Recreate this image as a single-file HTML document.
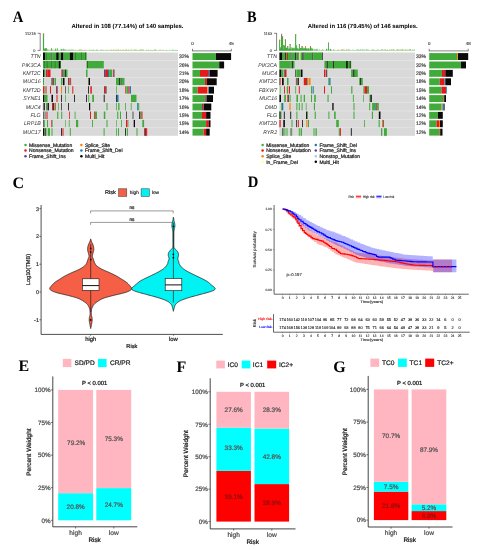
<!DOCTYPE html>
<html><head><meta charset="utf-8"><title>Figure</title>
<style>
html,body{margin:0;padding:0;background:#fff;}
body{width:478px;height:550px;overflow:hidden;}
svg{display:block;}
text{font-family:"Liberation Sans",Arial,sans-serif;text-rendering:geometricPrecision;}
text.r{font-family:"Liberation Serif","Times New Roman",serif;}
</style></head>
<body>
<svg width="478" height="550" viewBox="0 0 478 550">
<rect x="0" y="0" width="478" height="550" fill="#fff"/>
<text x="12.7" y="22" font-size="16" class="r" font-weight="bold" textLength="10.6" lengthAdjust="spacingAndGlyphs">A</text>
<text x="127.5" y="28.16" font-size="6" text-anchor="middle" font-weight="bold" textLength="112" lengthAdjust="spacingAndGlyphs">Altered in 108 (77.14%) of 140 samples.</text>
<rect x="43" y="52.5" width="135" height="83.3" fill="#D9D9D9"/>
<rect x="43" y="52.5" width="2.2" height="7.7" fill="#0a0a0a"/>
<rect x="45.2" y="52.5" width="6.3" height="7.7" fill="#40AB3A"/>
<rect x="45.8" y="52.5" width="0.6" height="7.7" fill="#2a6a26"/>
<rect x="51.5" y="52.5" width="0.8" height="7.7" fill="#333333"/>
<rect x="52.3" y="52.5" width="3.9" height="7.7" fill="#40AB3A"/>
<rect x="56.2" y="52.5" width="2.6" height="7.7" fill="#0a0a0a"/>
<rect x="58.8" y="52.5" width="2.1" height="7.7" fill="#40AB3A"/>
<rect x="60.9" y="52.5" width="2.6" height="7.7" fill="#0a0a0a"/>
<rect x="63.5" y="52.5" width="6.3" height="7.7" fill="#40AB3A"/>
<rect x="69.8" y="52.5" width="3.7" height="7.7" fill="#0a0a0a"/>
<rect x="73.5" y="52.5" width="12.8" height="7.7" fill="#40AB3A"/>
<rect x="75.3" y="52.5" width="0.6" height="7.7" fill="#2a6a26"/>
<rect x="81.3" y="52.5" width="0.6" height="7.7" fill="#2a6a26"/>
<rect x="85.2" y="52.5" width="1.1" height="7.7" fill="#2a6a26"/>
<text x="40.7" y="58.26" font-size="5.3" text-anchor="end" fill="#333" font-style="italic">TTN</text>
<text x="178.9" y="58.19" font-size="5.1" fill="#4a4a4a" stroke="#4a4a4a" stroke-width="0.22">32%</text>
<rect x="43" y="60.9" width="18" height="7.7" fill="#40AB3A"/>
<rect x="44.3" y="60.9" width="0.6" height="7.7" fill="#2a6a26"/>
<rect x="46.8" y="60.9" width="0.6" height="7.7" fill="#2a6a26"/>
<rect x="51.3" y="60.9" width="0.6" height="7.7" fill="#2a6a26"/>
<rect x="54.8" y="60.9" width="0.6" height="7.7" fill="#2a6a26"/>
<rect x="58.8" y="60.9" width="1.6" height="7.7" fill="#0a0a0a"/>
<rect x="86.5" y="60.9" width="17.3" height="7.7" fill="#40AB3A"/>
<rect x="87" y="60.9" width="1" height="7.7" fill="#2a6a26"/>
<rect x="43" y="60.2" width="135" height="0.7" fill="#E6E6E6"/>
<text x="40.7" y="66.66" font-size="5.3" text-anchor="end" fill="#333" font-style="italic">PIK3CA</text>
<text x="178.9" y="66.59" font-size="5.1" fill="#4a4a4a" stroke="#4a4a4a" stroke-width="0.22">26%</text>
<rect x="43" y="69.3" width="1.5" height="7.7" fill="#0a0a0a"/>
<rect x="44.5" y="69.3" width="1" height="7.7" fill="#40AB3A"/>
<rect x="46" y="69.3" width="1" height="7.7" fill="#E31A1C"/>
<rect x="47" y="69.3" width="0.5" height="7.7" fill="#333333"/>
<rect x="47.5" y="69.3" width="3" height="7.7" fill="#E31A1C"/>
<rect x="61.4" y="69.3" width="1.1" height="7.7" fill="#E31A1C"/>
<rect x="62.5" y="69.3" width="1" height="7.7" fill="#333333"/>
<rect x="63.5" y="69.3" width="1.5" height="7.7" fill="#40AB3A"/>
<rect x="65" y="69.3" width="1" height="7.7" fill="#333333"/>
<rect x="66" y="69.3" width="1.5" height="7.7" fill="#40AB3A"/>
<rect x="86" y="69.3" width="1.5" height="7.7" fill="#40AB3A"/>
<rect x="104" y="69.3" width="1" height="7.7" fill="#E31A1C"/>
<rect x="105" y="69.3" width="1" height="7.7" fill="#1F78B4"/>
<rect x="106" y="69.3" width="2" height="7.7" fill="#E31A1C"/>
<rect x="108" y="69.3" width="1.2" height="7.7" fill="#1F78B4"/>
<rect x="109.2" y="69.3" width="0.8" height="7.7" fill="#40AB3A"/>
<rect x="110" y="69.3" width="2" height="7.7" fill="#40AB3A"/>
<rect x="112.8" y="69.3" width="0.8" height="7.7" fill="#E31A1C"/>
<rect x="113.6" y="69.3" width="0.8" height="7.7" fill="#333333"/>
<rect x="43" y="68.6" width="135" height="0.7" fill="#E6E6E6"/>
<text x="40.7" y="75.06" font-size="5.3" text-anchor="end" fill="#333" font-style="italic">KMT2C</text>
<text x="178.9" y="74.99" font-size="5.1" fill="#4a4a4a" stroke="#4a4a4a" stroke-width="0.22">21%</text>
<rect x="43" y="77.7" width="1" height="7.7" fill="#40AB3A"/>
<rect x="51.5" y="77.7" width="1" height="7.7" fill="#333333"/>
<rect x="52.5" y="77.7" width="0.8" height="7.7" fill="#E31A1C"/>
<rect x="53.3" y="77.7" width="0.7" height="7.7" fill="#333333"/>
<rect x="54.5" y="77.7" width="1.5" height="7.7" fill="#40AB3A"/>
<rect x="61" y="77.7" width="1.5" height="7.7" fill="#40AB3A"/>
<rect x="63" y="77.7" width="1.5" height="7.7" fill="#0a0a0a"/>
<rect x="68" y="77.7" width="1" height="7.7" fill="#E31A1C"/>
<rect x="69.5" y="77.7" width="1" height="7.7" fill="#333333"/>
<rect x="70.5" y="77.7" width="0.6" height="7.7" fill="#E31A1C"/>
<rect x="88.5" y="77.7" width="1.5" height="7.7" fill="#0a0a0a"/>
<rect x="116" y="77.7" width="3" height="7.7" fill="#40AB3A"/>
<rect x="119" y="77.7" width="1" height="7.7" fill="#333333"/>
<rect x="120" y="77.7" width="1.5" height="7.7" fill="#40AB3A"/>
<rect x="121.5" y="77.7" width="1" height="7.7" fill="#333333"/>
<rect x="122.5" y="77.7" width="2" height="7.7" fill="#40AB3A"/>
<rect x="43" y="77" width="135" height="0.7" fill="#E6E6E6"/>
<text x="40.7" y="83.46" font-size="5.3" text-anchor="end" fill="#333" font-style="italic">MUC16</text>
<text x="178.9" y="83.39" font-size="5.1" fill="#4a4a4a" stroke="#4a4a4a" stroke-width="0.22">20%</text>
<rect x="43" y="86.1" width="1" height="7.7" fill="#E31A1C"/>
<rect x="44.3" y="86.1" width="0.7" height="7.7" fill="#40AB3A"/>
<rect x="45.5" y="86.1" width="1" height="7.7" fill="#E31A1C"/>
<rect x="50" y="86.1" width="1" height="7.7" fill="#E31A1C"/>
<rect x="56" y="86.1" width="1" height="7.7" fill="#E31A1C"/>
<rect x="57.2" y="86.1" width="0.8" height="7.7" fill="#1F78B4"/>
<rect x="61" y="86.1" width="1" height="7.7" fill="#FF7F00"/>
<rect x="65.3" y="86.1" width="0.7" height="7.7" fill="#333333"/>
<rect x="68.3" y="86.1" width="0.7" height="7.7" fill="#40AB3A"/>
<rect x="72.3" y="86.1" width="1" height="7.7" fill="#E31A1C"/>
<rect x="88" y="86.1" width="1" height="7.7" fill="#333333"/>
<rect x="90.3" y="86.1" width="1.5" height="7.7" fill="#E31A1C"/>
<rect x="104" y="86.1" width="1.5" height="7.7" fill="#E31A1C"/>
<rect x="105.5" y="86.1" width="1" height="7.7" fill="#333333"/>
<rect x="116" y="86.1" width="0.7" height="7.7" fill="#40AB3A"/>
<rect x="125.3" y="86.1" width="0.7" height="7.7" fill="#E31A1C"/>
<rect x="126.3" y="86.1" width="1.7" height="7.7" fill="#40AB3A"/>
<rect x="128.3" y="86.1" width="1.2" height="7.7" fill="#E31A1C"/>
<rect x="129.7" y="86.1" width="1.3" height="7.7" fill="#1F78B4"/>
<rect x="43" y="85.4" width="135" height="0.7" fill="#E6E6E6"/>
<text x="40.7" y="91.86" font-size="5.3" text-anchor="end" fill="#333" font-style="italic">KMT2D</text>
<text x="178.9" y="91.79" font-size="5.1" fill="#4a4a4a" stroke="#4a4a4a" stroke-width="0.22">18%</text>
<rect x="43" y="94.5" width="1.5" height="7.7" fill="#0a0a0a"/>
<rect x="44.5" y="94.5" width="3" height="7.7" fill="#40AB3A"/>
<rect x="51.5" y="94.5" width="1.5" height="7.7" fill="#0a0a0a"/>
<rect x="56.5" y="94.5" width="1" height="7.7" fill="#E31A1C"/>
<rect x="61" y="94.5" width="1" height="7.7" fill="#333333"/>
<rect x="65" y="94.5" width="0.7" height="7.7" fill="#40AB3A"/>
<rect x="74" y="94.5" width="1" height="7.7" fill="#333333"/>
<rect x="86" y="94.5" width="1" height="7.7" fill="#333333"/>
<rect x="88.3" y="94.5" width="0.9" height="7.7" fill="#40AB3A"/>
<rect x="92.2" y="94.5" width="1.8" height="7.7" fill="#40AB3A"/>
<rect x="103.7" y="94.5" width="1.1" height="7.7" fill="#333333"/>
<rect x="116" y="94.5" width="1" height="7.7" fill="#333333"/>
<rect x="117" y="94.5" width="1.5" height="7.7" fill="#1F78B4"/>
<rect x="131" y="94.5" width="5.5" height="7.7" fill="#40AB3A"/>
<rect x="43" y="93.8" width="135" height="0.7" fill="#E6E6E6"/>
<text x="40.7" y="100.26" font-size="5.3" text-anchor="end" fill="#333" font-style="italic">SYNE1</text>
<text x="178.9" y="100.19" font-size="5.1" fill="#4a4a4a" stroke="#4a4a4a" stroke-width="0.22">17%</text>
<rect x="42.9" y="102.9" width="0.7" height="7.7" fill="#333333"/>
<rect x="44" y="102.9" width="1" height="7.7" fill="#333333"/>
<rect x="46" y="102.9" width="1" height="7.7" fill="#40AB3A"/>
<rect x="47.5" y="102.9" width="1.4" height="7.7" fill="#0a0a0a"/>
<rect x="52" y="102.9" width="1" height="7.7" fill="#E31A1C"/>
<rect x="53" y="102.9" width="1" height="7.7" fill="#333333"/>
<rect x="54" y="102.9" width="0.7" height="7.7" fill="#40AB3A"/>
<rect x="55" y="102.9" width="0.7" height="7.7" fill="#E31A1C"/>
<rect x="58.3" y="102.9" width="0.7" height="7.7" fill="#40AB3A"/>
<rect x="61.2" y="102.9" width="0.8" height="7.7" fill="#333333"/>
<rect x="68" y="102.9" width="1" height="7.7" fill="#333333"/>
<rect x="89" y="102.9" width="1.2" height="7.7" fill="#0a0a0a"/>
<rect x="106.5" y="102.9" width="1" height="7.7" fill="#40AB3A"/>
<rect x="116.2" y="102.9" width="0.8" height="7.7" fill="#40AB3A"/>
<rect x="118.2" y="102.9" width="1.3" height="7.7" fill="#40AB3A"/>
<rect x="125" y="102.9" width="0.8" height="7.7" fill="#40AB3A"/>
<rect x="130.8" y="102.9" width="0.8" height="7.7" fill="#40AB3A"/>
<rect x="137.2" y="102.9" width="1" height="7.7" fill="#1F78B4"/>
<rect x="138.2" y="102.9" width="1" height="7.7" fill="#40AB3A"/>
<rect x="43" y="102.2" width="135" height="0.7" fill="#E6E6E6"/>
<text x="40.7" y="108.66" font-size="5.3" text-anchor="end" fill="#333" font-style="italic">MUC4</text>
<text x="178.9" y="108.59" font-size="5.1" fill="#4a4a4a" stroke="#4a4a4a" stroke-width="0.22">16%</text>
<rect x="43" y="111.3" width="0.7" height="7.7" fill="#333333"/>
<rect x="44.7" y="111.3" width="0.7" height="7.7" fill="#333333"/>
<rect x="46.5" y="111.3" width="1" height="7.7" fill="#E31A1C"/>
<rect x="57.2" y="111.3" width="1.1" height="7.7" fill="#40AB3A"/>
<rect x="61.2" y="111.3" width="1" height="7.7" fill="#40AB3A"/>
<rect x="69" y="111.3" width="0.8" height="7.7" fill="#E31A1C"/>
<rect x="74.7" y="111.3" width="0.8" height="7.7" fill="#40AB3A"/>
<rect x="90" y="111.3" width="1" height="7.7" fill="#E31A1C"/>
<rect x="94.2" y="111.3" width="0.8" height="7.7" fill="#E31A1C"/>
<rect x="95" y="111.3" width="2" height="7.7" fill="#40AB3A"/>
<rect x="103.8" y="111.3" width="1.5" height="7.7" fill="#40AB3A"/>
<rect x="117.2" y="111.3" width="1.1" height="7.7" fill="#40AB3A"/>
<rect x="120" y="111.3" width="1" height="7.7" fill="#40AB3A"/>
<rect x="126" y="111.3" width="0.8" height="7.7" fill="#333333"/>
<rect x="132.6" y="111.3" width="0.8" height="7.7" fill="#333333"/>
<rect x="139.2" y="111.3" width="1.2" height="7.7" fill="#0a0a0a"/>
<rect x="140.4" y="111.3" width="1.1" height="7.7" fill="#40AB3A"/>
<rect x="141.5" y="111.3" width="1" height="7.7" fill="#E31A1C"/>
<rect x="43" y="110.6" width="135" height="0.7" fill="#E6E6E6"/>
<text x="40.7" y="117.06" font-size="5.3" text-anchor="end" fill="#333" font-style="italic">FLG</text>
<text x="178.9" y="116.99" font-size="5.1" fill="#4a4a4a" stroke="#4a4a4a" stroke-width="0.22">15%</text>
<rect x="43" y="119.7" width="0.7" height="7.7" fill="#333333"/>
<rect x="44.2" y="119.7" width="0.8" height="7.7" fill="#40AB3A"/>
<rect x="47" y="119.7" width="1" height="7.7" fill="#40AB3A"/>
<rect x="51.3" y="119.7" width="0.7" height="7.7" fill="#E31A1C"/>
<rect x="52" y="119.7" width="0.6" height="7.7" fill="#40AB3A"/>
<rect x="65" y="119.7" width="0.6" height="7.7" fill="#40AB3A"/>
<rect x="68.8" y="119.7" width="0.8" height="7.7" fill="#40AB3A"/>
<rect x="76" y="119.7" width="2.2" height="7.7" fill="#40AB3A"/>
<rect x="92.1" y="119.7" width="0.9" height="7.7" fill="#40AB3A"/>
<rect x="106.5" y="119.7" width="1" height="7.7" fill="#40AB3A"/>
<rect x="116.2" y="119.7" width="0.6" height="7.7" fill="#40AB3A"/>
<rect x="121" y="119.7" width="0.8" height="7.7" fill="#40AB3A"/>
<rect x="126" y="119.7" width="1.5" height="7.7" fill="#E31A1C"/>
<rect x="127.8" y="119.7" width="0.6" height="7.7" fill="#40AB3A"/>
<rect x="133.7" y="119.7" width="1.3" height="7.7" fill="#0a0a0a"/>
<rect x="142.3" y="119.7" width="1.8" height="7.7" fill="#40AB3A"/>
<rect x="43" y="119" width="135" height="0.7" fill="#E6E6E6"/>
<text x="40.7" y="125.46" font-size="5.3" text-anchor="end" fill="#333" font-style="italic">LRP1B</text>
<text x="178.9" y="125.39" font-size="5.1" fill="#4a4a4a" stroke="#4a4a4a" stroke-width="0.22">15%</text>
<rect x="43" y="128.1" width="1.5" height="7.7" fill="#0a0a0a"/>
<rect x="44.5" y="128.1" width="2" height="7.7" fill="#40AB3A"/>
<rect x="45.3" y="128.1" width="0.6" height="7.7" fill="#333333"/>
<rect x="47.8" y="128.1" width="2.2" height="7.7" fill="#40AB3A"/>
<rect x="51.5" y="128.1" width="1" height="7.7" fill="#40AB3A"/>
<rect x="61" y="128.1" width="1" height="7.7" fill="#333333"/>
<rect x="62.5" y="128.1" width="1" height="7.7" fill="#E31A1C"/>
<rect x="69.8" y="128.1" width="1" height="7.7" fill="#40AB3A"/>
<rect x="103.6" y="128.1" width="1" height="7.7" fill="#40AB3A"/>
<rect x="116.2" y="128.1" width="0.8" height="7.7" fill="#40AB3A"/>
<rect x="118" y="128.1" width="1" height="7.7" fill="#40AB3A"/>
<rect x="125" y="128.1" width="1" height="7.7" fill="#333333"/>
<rect x="126.8" y="128.1" width="1.1" height="7.7" fill="#40AB3A"/>
<rect x="136.5" y="128.1" width="1" height="7.7" fill="#40AB3A"/>
<rect x="144.1" y="128.1" width="1" height="7.7" fill="#E31A1C"/>
<rect x="145.1" y="128.1" width="1" height="7.7" fill="#333333"/>
<rect x="146.1" y="128.1" width="1.1" height="7.7" fill="#E31A1C"/>
<rect x="43" y="127.4" width="135" height="0.7" fill="#E6E6E6"/>
<text x="40.7" y="133.86" font-size="5.3" text-anchor="end" fill="#333" font-style="italic">MUC17</text>
<text x="178.9" y="133.79" font-size="5.1" fill="#4a4a4a" stroke="#4a4a4a" stroke-width="0.22">14%</text>
<rect x="192.5" y="53.1" width="23.4" height="6.9" fill="#40AB3A"/>
<rect x="215.9" y="53.1" width="15.2" height="6.9" fill="#0a0a0a"/>
<rect x="192.5" y="61.5" width="26.7" height="6.9" fill="#40AB3A"/>
<rect x="219.2" y="61.5" width="4.9" height="6.9" fill="#0a0a0a"/>
<rect x="192.5" y="69.9" width="7.5" height="6.9" fill="#40AB3A"/>
<rect x="200" y="69.9" width="8.9" height="6.9" fill="#E31A1C"/>
<rect x="208.9" y="69.9" width="1.1" height="6.9" fill="#1F78B4"/>
<rect x="210" y="69.9" width="7.6" height="6.9" fill="#0a0a0a"/>
<rect x="192.5" y="78.3" width="12.5" height="6.9" fill="#40AB3A"/>
<rect x="205" y="78.3" width="1.9" height="6.9" fill="#E31A1C"/>
<rect x="206.9" y="78.3" width="9.8" height="6.9" fill="#0a0a0a"/>
<rect x="192.5" y="86.7" width="5.1" height="6.9" fill="#40AB3A"/>
<rect x="197.6" y="86.7" width="9.8" height="6.9" fill="#E31A1C"/>
<rect x="207.4" y="86.7" width="0.8" height="6.9" fill="#FF7F00"/>
<rect x="208.2" y="86.7" width="0.8" height="6.9" fill="#1F78B4"/>
<rect x="209" y="86.7" width="5" height="6.9" fill="#0a0a0a"/>
<rect x="192.5" y="95.1" width="12.5" height="6.9" fill="#40AB3A"/>
<rect x="205" y="95.1" width="0.8" height="6.9" fill="#E31A1C"/>
<rect x="205.8" y="95.1" width="0.7" height="6.9" fill="#1F78B4"/>
<rect x="206.5" y="95.1" width="6.5" height="6.9" fill="#0a0a0a"/>
<rect x="192.5" y="103.5" width="9.5" height="6.9" fill="#40AB3A"/>
<rect x="202" y="103.5" width="1" height="6.9" fill="#E31A1C"/>
<rect x="203" y="103.5" width="0.7" height="6.9" fill="#1F78B4"/>
<rect x="203.7" y="103.5" width="7.6" height="6.9" fill="#0a0a0a"/>
<rect x="192.5" y="111.9" width="9.5" height="6.9" fill="#40AB3A"/>
<rect x="202" y="111.9" width="4.1" height="6.9" fill="#E31A1C"/>
<rect x="206.1" y="111.9" width="4.4" height="6.9" fill="#0a0a0a"/>
<rect x="192.5" y="120.3" width="13.6" height="6.9" fill="#40AB3A"/>
<rect x="206.1" y="120.3" width="2.8" height="6.9" fill="#E31A1C"/>
<rect x="208.9" y="120.3" width="1.6" height="6.9" fill="#0a0a0a"/>
<rect x="192.5" y="128.7" width="11.1" height="6.9" fill="#40AB3A"/>
<rect x="203.6" y="128.7" width="2.5" height="6.9" fill="#E31A1C"/>
<rect x="206.1" y="128.7" width="3.6" height="6.9" fill="#0a0a0a"/>
<line x1="192.5" y1="50.9" x2="231.3" y2="50.9" stroke="#333" stroke-width="0.6"/>
<line x1="192.5" y1="48.8" x2="192.5" y2="51.2" stroke="#333" stroke-width="0.6"/>
<line x1="231.3" y1="48.8" x2="231.3" y2="51.2" stroke="#333" stroke-width="0.6"/>
<text x="192.5" y="45.38" font-size="4.4" text-anchor="middle" fill="#333" stroke="#333" stroke-width="0.12">0</text>
<text x="231.3" y="45.38" font-size="4.4" text-anchor="middle" fill="#333" stroke="#333" stroke-width="0.12">45</text>
<line x1="40.2" y1="33" x2="40.2" y2="50.7" stroke="#333" stroke-width="0.6"/>
<line x1="37.6" y1="33.3" x2="40.2" y2="33.3" stroke="#333" stroke-width="0.6"/>
<line x1="37.6" y1="50.4" x2="40.2" y2="50.4" stroke="#333" stroke-width="0.6"/>
<text x="35.6" y="35" font-size="3.9" text-anchor="end" fill="#444" stroke="#444" stroke-width="0.12">11218</text>
<text x="35.4" y="51.5" font-size="3.9" text-anchor="end" fill="#444" stroke="#444" stroke-width="0.12">0</text>
<rect x="43" y="48.81" width="0.9" height="1.69" fill="#40AB3A"/>
<rect x="43.95" y="48.94" width="0.9" height="1.56" fill="#40AB3A"/>
<rect x="44.9" y="49.29" width="0.9" height="1.21" fill="#40AB3A"/>
<rect x="45.85" y="48.2" width="0.9" height="2.3" fill="#40AB3A"/>
<rect x="46.8" y="49.49" width="0.9" height="1.01" fill="#40AB3A"/>
<rect x="43" y="50.12" width="0.82" height="0.38" fill="#40AB3A"/>
<rect x="43.96" y="50.04" width="0.82" height="0.46" fill="#40AB3A"/>
<rect x="44.93" y="49.87" width="0.82" height="0.63" fill="#40AB3A"/>
<rect x="44.93" y="49.87" width="0.82" height="0.32" fill="#FF7F00"/>
<rect x="45.89" y="50.27" width="0.82" height="0.23" fill="#40AB3A"/>
<rect x="46.86" y="50.11" width="0.82" height="0.39" fill="#40AB3A"/>
<rect x="46.86" y="50.11" width="0.82" height="0.2" fill="#FF7F00"/>
<rect x="47.82" y="49.62" width="0.82" height="0.88" fill="#40AB3A"/>
<rect x="48.79" y="49.73" width="0.82" height="0.77" fill="#40AB3A"/>
<rect x="49.75" y="49.86" width="0.82" height="0.64" fill="#40AB3A"/>
<rect x="49.75" y="49.86" width="0.82" height="0.32" fill="#FF7F00"/>
<rect x="50.71" y="49.86" width="0.82" height="0.64" fill="#40AB3A"/>
<rect x="51.68" y="49.93" width="0.82" height="0.57" fill="#40AB3A"/>
<rect x="52.64" y="49.84" width="0.82" height="0.66" fill="#40AB3A"/>
<rect x="52.64" y="49.84" width="0.82" height="0.33" fill="#FF7F00"/>
<rect x="53.61" y="49.78" width="0.82" height="0.72" fill="#40AB3A"/>
<rect x="54.57" y="50.08" width="0.82" height="0.42" fill="#40AB3A"/>
<rect x="54.57" y="50.08" width="0.82" height="0.21" fill="#FF7F00"/>
<rect x="55.54" y="49.71" width="0.82" height="0.79" fill="#40AB3A"/>
<rect x="56.5" y="49.81" width="0.82" height="0.69" fill="#40AB3A"/>
<rect x="57.46" y="49.81" width="0.82" height="0.69" fill="#40AB3A"/>
<rect x="58.43" y="50.02" width="0.82" height="0.48" fill="#40AB3A"/>
<rect x="59.39" y="49.99" width="0.82" height="0.51" fill="#40AB3A"/>
<rect x="60.36" y="49.7" width="0.82" height="0.8" fill="#40AB3A"/>
<rect x="60.36" y="49.7" width="0.82" height="0.4" fill="#FF7F00"/>
<rect x="61.32" y="50.19" width="0.82" height="0.31" fill="#40AB3A"/>
<rect x="61.32" y="50.19" width="0.82" height="0.15" fill="#FF7F00"/>
<rect x="62.29" y="49.64" width="0.82" height="0.86" fill="#40AB3A"/>
<rect x="63.25" y="49.87" width="0.82" height="0.63" fill="#40AB3A"/>
<rect x="63.25" y="49.87" width="0.82" height="0.32" fill="#FF7F00"/>
<rect x="64.21" y="49.95" width="0.82" height="0.55" fill="#40AB3A"/>
<rect x="65.18" y="50.05" width="0.82" height="0.45" fill="#40AB3A"/>
<rect x="66.14" y="49.89" width="0.82" height="0.61" fill="#40AB3A"/>
<rect x="67.11" y="49.83" width="0.82" height="0.67" fill="#40AB3A"/>
<rect x="68.07" y="49.71" width="0.82" height="0.79" fill="#40AB3A"/>
<rect x="69.04" y="49.84" width="0.82" height="0.66" fill="#40AB3A"/>
<rect x="69.04" y="49.84" width="0.82" height="0.33" fill="#FF7F00"/>
<rect x="70" y="49.71" width="0.82" height="0.79" fill="#40AB3A"/>
<rect x="70.96" y="49.68" width="0.82" height="0.82" fill="#40AB3A"/>
<rect x="71.93" y="49.81" width="0.82" height="0.69" fill="#40AB3A"/>
<rect x="71.93" y="49.81" width="0.82" height="0.35" fill="#FF7F00"/>
<rect x="72.89" y="49.73" width="0.82" height="0.77" fill="#40AB3A"/>
<rect x="73.86" y="50.09" width="0.82" height="0.41" fill="#40AB3A"/>
<rect x="73.86" y="50.09" width="0.82" height="0.2" fill="#FF7F00"/>
<rect x="74.82" y="49.72" width="0.82" height="0.78" fill="#40AB3A"/>
<rect x="75.79" y="50.22" width="0.82" height="0.28" fill="#40AB3A"/>
<rect x="76.75" y="50.01" width="0.82" height="0.49" fill="#40AB3A"/>
<rect x="76.75" y="50.01" width="0.82" height="0.25" fill="#FF7F00"/>
<rect x="77.71" y="50.09" width="0.82" height="0.41" fill="#40AB3A"/>
<rect x="78.68" y="49.7" width="0.82" height="0.8" fill="#40AB3A"/>
<rect x="78.68" y="49.7" width="0.82" height="0.4" fill="#FF7F00"/>
<rect x="79.64" y="49.87" width="0.82" height="0.63" fill="#40AB3A"/>
<rect x="79.64" y="49.87" width="0.82" height="0.31" fill="#FF7F00"/>
<rect x="80.61" y="49.81" width="0.82" height="0.69" fill="#40AB3A"/>
<rect x="80.61" y="49.81" width="0.82" height="0.35" fill="#FF7F00"/>
<rect x="81.57" y="49.7" width="0.82" height="0.8" fill="#40AB3A"/>
<rect x="82.54" y="49.95" width="0.82" height="0.55" fill="#40AB3A"/>
<rect x="83.5" y="50.08" width="0.82" height="0.42" fill="#40AB3A"/>
<rect x="83.5" y="50.08" width="0.82" height="0.21" fill="#FF7F00"/>
<rect x="84.46" y="49.88" width="0.82" height="0.62" fill="#40AB3A"/>
<rect x="84.46" y="49.88" width="0.82" height="0.31" fill="#FF7F00"/>
<rect x="85.43" y="50.15" width="0.82" height="0.35" fill="#40AB3A"/>
<rect x="86.39" y="49.88" width="0.82" height="0.62" fill="#40AB3A"/>
<rect x="86.39" y="49.88" width="0.82" height="0.31" fill="#FF7F00"/>
<rect x="87.36" y="50.25" width="0.82" height="0.25" fill="#40AB3A"/>
<rect x="88.32" y="50.07" width="0.82" height="0.43" fill="#40AB3A"/>
<rect x="89.29" y="49.69" width="0.82" height="0.81" fill="#40AB3A"/>
<rect x="90.25" y="49.98" width="0.82" height="0.52" fill="#40AB3A"/>
<rect x="91.21" y="49.86" width="0.82" height="0.64" fill="#40AB3A"/>
<rect x="92.18" y="49.91" width="0.82" height="0.59" fill="#40AB3A"/>
<rect x="93.14" y="49.66" width="0.82" height="0.84" fill="#40AB3A"/>
<rect x="94.11" y="50" width="0.82" height="0.5" fill="#40AB3A"/>
<rect x="95.07" y="50.12" width="0.82" height="0.38" fill="#40AB3A"/>
<rect x="95.07" y="50.12" width="0.82" height="0.19" fill="#FF7F00"/>
<rect x="96.04" y="49.63" width="0.82" height="0.87" fill="#40AB3A"/>
<rect x="97" y="49.92" width="0.82" height="0.58" fill="#40AB3A"/>
<rect x="97" y="49.92" width="0.82" height="0.29" fill="#FF7F00"/>
<rect x="97.96" y="50.01" width="0.82" height="0.49" fill="#40AB3A"/>
<rect x="98.93" y="50.27" width="0.82" height="0.23" fill="#40AB3A"/>
<rect x="99.89" y="49.86" width="0.82" height="0.64" fill="#40AB3A"/>
<rect x="99.89" y="49.86" width="0.82" height="0.32" fill="#FF7F00"/>
<rect x="100.86" y="49.87" width="0.82" height="0.63" fill="#40AB3A"/>
<rect x="101.82" y="49.83" width="0.82" height="0.67" fill="#40AB3A"/>
<rect x="102.79" y="49.81" width="0.82" height="0.69" fill="#40AB3A"/>
<rect x="103.75" y="50.27" width="0.82" height="0.23" fill="#40AB3A"/>
<rect x="103.75" y="50.27" width="0.82" height="0.12" fill="#FF7F00"/>
<rect x="104.71" y="49.83" width="0.82" height="0.67" fill="#40AB3A"/>
<rect x="105.68" y="50.11" width="0.82" height="0.39" fill="#40AB3A"/>
<rect x="106.64" y="49.89" width="0.82" height="0.61" fill="#40AB3A"/>
<rect x="106.64" y="49.89" width="0.82" height="0.31" fill="#FF7F00"/>
<rect x="107.61" y="50.04" width="0.82" height="0.46" fill="#40AB3A"/>
<rect x="107.61" y="50.04" width="0.82" height="0.23" fill="#FF7F00"/>
<rect x="108.57" y="50.04" width="0.82" height="0.46" fill="#40AB3A"/>
<rect x="109.54" y="50.08" width="0.82" height="0.42" fill="#40AB3A"/>
<rect x="110.5" y="49.77" width="0.82" height="0.73" fill="#40AB3A"/>
<rect x="110.5" y="49.77" width="0.82" height="0.36" fill="#FF7F00"/>
<rect x="111.46" y="49.9" width="0.82" height="0.6" fill="#40AB3A"/>
<rect x="112.43" y="50.08" width="0.82" height="0.42" fill="#40AB3A"/>
<rect x="112.43" y="50.08" width="0.82" height="0.21" fill="#FF7F00"/>
<rect x="113.39" y="49.75" width="0.82" height="0.75" fill="#40AB3A"/>
<rect x="113.39" y="49.75" width="0.82" height="0.38" fill="#FF7F00"/>
<rect x="114.36" y="50.16" width="0.82" height="0.34" fill="#40AB3A"/>
<rect x="115.32" y="49.82" width="0.82" height="0.68" fill="#40AB3A"/>
<rect x="115.32" y="49.82" width="0.82" height="0.34" fill="#FF7F00"/>
<rect x="116.29" y="50.07" width="0.82" height="0.43" fill="#40AB3A"/>
<rect x="116.29" y="50.07" width="0.82" height="0.22" fill="#FF7F00"/>
<rect x="117.25" y="49.73" width="0.82" height="0.77" fill="#40AB3A"/>
<rect x="118.21" y="49.72" width="0.82" height="0.78" fill="#40AB3A"/>
<rect x="118.21" y="49.72" width="0.82" height="0.39" fill="#FF7F00"/>
<rect x="119.18" y="50.06" width="0.82" height="0.44" fill="#40AB3A"/>
<rect x="120.14" y="49.7" width="0.82" height="0.8" fill="#40AB3A"/>
<rect x="121.11" y="50.13" width="0.82" height="0.37" fill="#40AB3A"/>
<rect x="121.11" y="50.13" width="0.82" height="0.18" fill="#FF7F00"/>
<rect x="122.07" y="49.93" width="0.82" height="0.57" fill="#40AB3A"/>
<rect x="122.07" y="49.93" width="0.82" height="0.28" fill="#FF7F00"/>
<rect x="123.04" y="49.75" width="0.82" height="0.75" fill="#40AB3A"/>
<rect x="124" y="50.16" width="0.82" height="0.34" fill="#40AB3A"/>
<rect x="124" y="50.16" width="0.82" height="0.17" fill="#FF7F00"/>
<rect x="124.96" y="49.75" width="0.82" height="0.75" fill="#40AB3A"/>
<rect x="125.93" y="49.75" width="0.82" height="0.75" fill="#40AB3A"/>
<rect x="125.93" y="49.75" width="0.82" height="0.38" fill="#FF7F00"/>
<rect x="126.89" y="50.19" width="0.82" height="0.31" fill="#40AB3A"/>
<rect x="126.89" y="50.19" width="0.82" height="0.15" fill="#FF7F00"/>
<rect x="127.86" y="49.76" width="0.82" height="0.74" fill="#40AB3A"/>
<rect x="127.86" y="49.76" width="0.82" height="0.37" fill="#FF7F00"/>
<rect x="128.82" y="50.05" width="0.82" height="0.45" fill="#40AB3A"/>
<rect x="129.79" y="50" width="0.82" height="0.5" fill="#40AB3A"/>
<rect x="130.75" y="49.67" width="0.82" height="0.83" fill="#40AB3A"/>
<rect x="130.75" y="49.67" width="0.82" height="0.41" fill="#FF7F00"/>
<rect x="131.71" y="50.28" width="0.82" height="0.22" fill="#40AB3A"/>
<rect x="132.68" y="49.7" width="0.82" height="0.8" fill="#40AB3A"/>
<rect x="133.64" y="49.99" width="0.82" height="0.51" fill="#40AB3A"/>
<rect x="134.61" y="49.67" width="0.82" height="0.83" fill="#40AB3A"/>
<rect x="134.61" y="49.67" width="0.82" height="0.42" fill="#FF7F00"/>
<rect x="135.57" y="49.79" width="0.82" height="0.71" fill="#40AB3A"/>
<rect x="136.54" y="49.84" width="0.82" height="0.66" fill="#40AB3A"/>
<rect x="137.5" y="50.09" width="0.82" height="0.41" fill="#40AB3A"/>
<rect x="137.5" y="50.09" width="0.82" height="0.21" fill="#FF7F00"/>
<rect x="138.46" y="50.13" width="0.82" height="0.37" fill="#40AB3A"/>
<rect x="138.46" y="50.13" width="0.82" height="0.19" fill="#FF7F00"/>
<rect x="139.43" y="49.89" width="0.82" height="0.61" fill="#40AB3A"/>
<rect x="139.43" y="49.89" width="0.82" height="0.3" fill="#FF7F00"/>
<rect x="140.39" y="49.75" width="0.82" height="0.75" fill="#40AB3A"/>
<rect x="140.39" y="49.75" width="0.82" height="0.38" fill="#FF7F00"/>
<rect x="141.36" y="49.68" width="0.82" height="0.82" fill="#40AB3A"/>
<rect x="142.32" y="49.67" width="0.82" height="0.83" fill="#40AB3A"/>
<rect x="143.29" y="49.69" width="0.82" height="0.81" fill="#40AB3A"/>
<rect x="144.25" y="50.27" width="0.82" height="0.23" fill="#40AB3A"/>
<rect x="145.21" y="50.17" width="0.82" height="0.33" fill="#40AB3A"/>
<rect x="145.21" y="50.17" width="0.82" height="0.17" fill="#FF7F00"/>
<rect x="146.18" y="49.84" width="0.82" height="0.66" fill="#40AB3A"/>
<rect x="147.14" y="50.01" width="0.82" height="0.49" fill="#40AB3A"/>
<rect x="148.11" y="49.88" width="0.82" height="0.62" fill="#40AB3A"/>
<rect x="148.11" y="49.88" width="0.82" height="0.31" fill="#FF7F00"/>
<rect x="149.07" y="50.11" width="0.82" height="0.39" fill="#40AB3A"/>
<rect x="150.04" y="49.97" width="0.82" height="0.53" fill="#40AB3A"/>
<rect x="151" y="50.05" width="0.82" height="0.45" fill="#40AB3A"/>
<rect x="151" y="50.05" width="0.82" height="0.23" fill="#FF7F00"/>
<rect x="151.96" y="49.93" width="0.82" height="0.57" fill="#40AB3A"/>
<rect x="152.93" y="50.17" width="0.82" height="0.33" fill="#40AB3A"/>
<rect x="153.89" y="49.67" width="0.82" height="0.83" fill="#40AB3A"/>
<rect x="154.86" y="49.74" width="0.82" height="0.76" fill="#40AB3A"/>
<rect x="154.86" y="49.74" width="0.82" height="0.38" fill="#FF7F00"/>
<rect x="155.82" y="49.87" width="0.82" height="0.63" fill="#40AB3A"/>
<rect x="156.79" y="50.25" width="0.82" height="0.25" fill="#40AB3A"/>
<rect x="156.79" y="50.25" width="0.82" height="0.13" fill="#FF7F00"/>
<rect x="157.75" y="50.1" width="0.82" height="0.4" fill="#40AB3A"/>
<rect x="158.71" y="50" width="0.82" height="0.5" fill="#40AB3A"/>
<rect x="159.68" y="49.77" width="0.82" height="0.73" fill="#40AB3A"/>
<rect x="159.68" y="49.77" width="0.82" height="0.37" fill="#FF7F00"/>
<rect x="160.64" y="50.24" width="0.82" height="0.26" fill="#40AB3A"/>
<rect x="160.64" y="50.24" width="0.82" height="0.13" fill="#FF7F00"/>
<rect x="161.61" y="50.2" width="0.82" height="0.3" fill="#40AB3A"/>
<rect x="161.61" y="50.2" width="0.82" height="0.15" fill="#FF7F00"/>
<rect x="162.57" y="49.64" width="0.82" height="0.86" fill="#40AB3A"/>
<rect x="163.54" y="50.22" width="0.82" height="0.28" fill="#40AB3A"/>
<rect x="164.5" y="50.07" width="0.82" height="0.43" fill="#40AB3A"/>
<rect x="164.5" y="50.07" width="0.82" height="0.21" fill="#FF7F00"/>
<rect x="165.46" y="50.05" width="0.82" height="0.45" fill="#40AB3A"/>
<rect x="166.43" y="49.89" width="0.82" height="0.61" fill="#40AB3A"/>
<rect x="167.39" y="50.15" width="0.82" height="0.35" fill="#40AB3A"/>
<rect x="167.39" y="50.15" width="0.82" height="0.17" fill="#FF7F00"/>
<rect x="168.36" y="50.2" width="0.82" height="0.3" fill="#40AB3A"/>
<rect x="169.32" y="49.81" width="0.82" height="0.69" fill="#40AB3A"/>
<rect x="170.29" y="50.23" width="0.82" height="0.27" fill="#40AB3A"/>
<rect x="170.29" y="50.23" width="0.82" height="0.14" fill="#FF7F00"/>
<rect x="171.25" y="50.03" width="0.82" height="0.47" fill="#40AB3A"/>
<rect x="172.21" y="49.76" width="0.82" height="0.74" fill="#40AB3A"/>
<rect x="173.18" y="49.75" width="0.82" height="0.75" fill="#40AB3A"/>
<rect x="174.14" y="50" width="0.82" height="0.5" fill="#40AB3A"/>
<rect x="175.11" y="49.95" width="0.82" height="0.55" fill="#40AB3A"/>
<rect x="176.07" y="50" width="0.82" height="0.5" fill="#40AB3A"/>
<rect x="177.04" y="49.98" width="0.82" height="0.52" fill="#40AB3A"/>
<rect x="177.04" y="49.98" width="0.82" height="0.26" fill="#FF7F00"/>
<rect x="42.9" y="33.6" width="1.2" height="16.9" fill="#40AB3A"/>
<rect x="42.9" y="33.6" width="1.2" height="1.2" fill="#F05A5A"/>
<rect x="43.6" y="48" width="0.8" height="2.5" fill="#40AB3A"/>
<rect x="45" y="48.2" width="0.9" height="2.3" fill="#40AB3A"/>
<rect x="46.2" y="48.6" width="0.8" height="1.9" fill="#40AB3A"/>
<rect x="51.2" y="48.1" width="0.9" height="2.4" fill="#40AB3A"/>
<rect x="55" y="48.6" width="0.8" height="1.9" fill="#40AB3A"/>
<rect x="56.8" y="48.3" width="0.9" height="2.2" fill="#40AB3A"/>
<rect x="61.2" y="49" width="0.8" height="1.5" fill="#40AB3A"/>
<rect x="62.8" y="48.7" width="0.8" height="1.8" fill="#40AB3A"/>
<rect x="64.6" y="49" width="0.8" height="1.5" fill="#40AB3A"/>
<circle cx="25.5" cy="145" r="1.25" fill="#40AB3A"/>
<text x="29.1" y="146.8" font-size="5" fill="#222" stroke="#222" stroke-width="0.22">Missense_Mutation</text>
<circle cx="25.5" cy="150.6" r="1.25" fill="#E31A1C"/>
<text x="29.1" y="152.4" font-size="5" fill="#222" stroke="#222" stroke-width="0.22">Nonsense_Mutation</text>
<circle cx="25.5" cy="156.2" r="1.25" fill="#6A3D9A"/>
<text x="29.1" y="158" font-size="5" fill="#222" stroke="#222" stroke-width="0.22">Frame_Shift_Ins</text>
<circle cx="81.4" cy="145" r="1.25" fill="#FF7F00"/>
<text x="85" y="146.8" font-size="5" fill="#222" stroke="#222" stroke-width="0.22">Splice_Site</text>
<circle cx="81.4" cy="150.6" r="1.25" fill="#1F78B4"/>
<text x="85" y="152.4" font-size="5" fill="#222" stroke="#222" stroke-width="0.22">Frame_Shift_Del</text>
<circle cx="81.4" cy="156.2" r="1.25" fill="#000"/>
<text x="85" y="158" font-size="5" fill="#222" stroke="#222" stroke-width="0.22">Multi_Hit</text>
<text x="247" y="21.9" font-size="16" class="r" font-weight="bold" textLength="9.6" lengthAdjust="spacingAndGlyphs">B</text>
<text x="362.7" y="28.16" font-size="6" text-anchor="middle" font-weight="bold" textLength="110" lengthAdjust="spacingAndGlyphs">Altered in 116 (79.45%) of 146 samples.</text>
<rect x="279.4" y="52.5" width="135.6" height="83.3" fill="#D9D9D9"/>
<rect x="279.4" y="52.5" width="3.1" height="7.7" fill="#0a0a0a"/>
<rect x="282.5" y="52.5" width="2.5" height="7.7" fill="#40AB3A"/>
<rect x="285" y="52.5" width="1" height="7.7" fill="#333333"/>
<rect x="286" y="52.5" width="1" height="7.7" fill="#40AB3A"/>
<rect x="287" y="52.5" width="1" height="7.7" fill="#E31A1C"/>
<rect x="288" y="52.5" width="2.7" height="7.7" fill="#40AB3A"/>
<rect x="290.7" y="52.5" width="0.8" height="7.7" fill="#333333"/>
<rect x="291.5" y="52.5" width="3.5" height="7.7" fill="#40AB3A"/>
<rect x="295" y="52.5" width="1" height="7.7" fill="#333333"/>
<rect x="296" y="52.5" width="1.5" height="7.7" fill="#40AB3A"/>
<rect x="297.5" y="52.5" width="1" height="7.7" fill="#333333"/>
<rect x="298.5" y="52.5" width="1" height="7.7" fill="#40AB3A"/>
<rect x="299.5" y="52.5" width="1" height="7.7" fill="#FFFF99"/>
<rect x="300.5" y="52.5" width="1.8" height="7.7" fill="#40AB3A"/>
<rect x="302.3" y="52.5" width="0.9" height="7.7" fill="#333333"/>
<rect x="303.2" y="52.5" width="0.6" height="7.7" fill="#2a6a26"/>
<rect x="303.8" y="52.5" width="0.7" height="7.7" fill="#333333"/>
<rect x="304.5" y="52.5" width="7.8" height="7.7" fill="#40AB3A"/>
<rect x="312.3" y="52.5" width="0.9" height="7.7" fill="#333333"/>
<rect x="313.2" y="52.5" width="9" height="7.7" fill="#40AB3A"/>
<rect x="322.2" y="52.5" width="0.8" height="7.7" fill="#333333"/>
<text x="277.1" y="58.26" font-size="5.3" text-anchor="end" fill="#333" font-style="italic">TTN</text>
<text x="415.9" y="58.19" font-size="5.1" fill="#4a4a4a" stroke="#4a4a4a" stroke-width="0.22">33%</text>
<rect x="279.4" y="60.9" width="10.1" height="7.7" fill="#40AB3A"/>
<rect x="289.5" y="60.9" width="1" height="7.7" fill="#2a6a26"/>
<rect x="290.5" y="60.9" width="1.5" height="7.7" fill="#40AB3A"/>
<rect x="292" y="60.9" width="1" height="7.7" fill="#333333"/>
<rect x="293" y="60.9" width="1.5" height="7.7" fill="#40AB3A"/>
<rect x="324.4" y="60.9" width="26.8" height="7.7" fill="#40AB3A"/>
<rect x="326.8" y="60.9" width="1" height="7.7" fill="#333333"/>
<rect x="333" y="60.9" width="1" height="7.7" fill="#333333"/>
<rect x="346.2" y="60.9" width="1.5" height="7.7" fill="#0a0a0a"/>
<rect x="349.7" y="60.9" width="1" height="7.7" fill="#333333"/>
<rect x="279.4" y="60.2" width="135.6" height="0.7" fill="#E6E6E6"/>
<text x="277.1" y="66.66" font-size="5.3" text-anchor="end" fill="#333" font-style="italic">PIK3CA</text>
<text x="415.9" y="66.59" font-size="5.1" fill="#4a4a4a" stroke="#4a4a4a" stroke-width="0.22">32%</text>
<rect x="279.4" y="69.3" width="1.6" height="7.7" fill="#0a0a0a"/>
<rect x="281" y="69.3" width="2.5" height="7.7" fill="#40AB3A"/>
<rect x="284.2" y="69.3" width="0.8" height="7.7" fill="#E31A1C"/>
<rect x="285" y="69.3" width="0.8" height="7.7" fill="#333333"/>
<rect x="285.8" y="69.3" width="0.7" height="7.7" fill="#E31A1C"/>
<rect x="295.2" y="69.3" width="0.7" height="7.7" fill="#333333"/>
<rect x="296.3" y="69.3" width="4.2" height="7.7" fill="#40AB3A"/>
<rect x="300.8" y="69.3" width="1.7" height="7.7" fill="#0a0a0a"/>
<rect x="324" y="69.3" width="1" height="7.7" fill="#E31A1C"/>
<rect x="325.5" y="69.3" width="0.8" height="7.7" fill="#E31A1C"/>
<rect x="326.3" y="69.3" width="0.9" height="7.7" fill="#333333"/>
<rect x="351.1" y="69.3" width="2.2" height="7.7" fill="#40AB3A"/>
<rect x="353.3" y="69.3" width="1.3" height="7.7" fill="#0a0a0a"/>
<rect x="354.6" y="69.3" width="3.2" height="7.7" fill="#40AB3A"/>
<rect x="279.4" y="68.6" width="135.6" height="0.7" fill="#E6E6E6"/>
<text x="277.1" y="75.06" font-size="5.3" text-anchor="end" fill="#333" font-style="italic">MUC4</text>
<text x="415.9" y="74.99" font-size="5.1" fill="#4a4a4a" stroke="#4a4a4a" stroke-width="0.22">20%</text>
<rect x="279.4" y="77.7" width="0.5" height="7.7" fill="#333333"/>
<rect x="279.9" y="77.7" width="0.7" height="7.7" fill="#E31A1C"/>
<rect x="282" y="77.7" width="1.7" height="7.7" fill="#0a0a0a"/>
<rect x="287" y="77.7" width="1.5" height="7.7" fill="#40AB3A"/>
<rect x="295.8" y="77.7" width="0.6" height="7.7" fill="#FF7F00"/>
<rect x="296.4" y="77.7" width="0.6" height="7.7" fill="#333333"/>
<rect x="297.5" y="77.7" width="1.3" height="7.7" fill="#0a0a0a"/>
<rect x="303.8" y="77.7" width="3.5" height="7.7" fill="#E31A1C"/>
<rect x="307.3" y="77.7" width="1" height="7.7" fill="#40AB3A"/>
<rect x="308.8" y="77.7" width="1.7" height="7.7" fill="#FF7F00"/>
<rect x="328.3" y="77.7" width="0.9" height="7.7" fill="#40AB3A"/>
<rect x="329.2" y="77.7" width="1.3" height="7.7" fill="#1F78B4"/>
<rect x="359.2" y="77.7" width="0.8" height="7.7" fill="#40AB3A"/>
<rect x="360" y="77.7" width="1" height="7.7" fill="#333333"/>
<rect x="361" y="77.7" width="1.8" height="7.7" fill="#40AB3A"/>
<rect x="279.4" y="77" width="135.6" height="0.7" fill="#E6E6E6"/>
<text x="277.1" y="83.46" font-size="5.3" text-anchor="end" fill="#333" font-style="italic">KMT2C</text>
<text x="415.9" y="83.39" font-size="5.1" fill="#4a4a4a" stroke="#4a4a4a" stroke-width="0.22">18%</text>
<rect x="279.8" y="86.1" width="0.7" height="7.7" fill="#40AB3A"/>
<rect x="284.1" y="86.1" width="0.9" height="7.7" fill="#E31A1C"/>
<rect x="286.8" y="86.1" width="1.2" height="7.7" fill="#40AB3A"/>
<rect x="288.8" y="86.1" width="1.2" height="7.7" fill="#E31A1C"/>
<rect x="295.3" y="86.1" width="0.8" height="7.7" fill="#40AB3A"/>
<rect x="298.8" y="86.1" width="1" height="7.7" fill="#E31A1C"/>
<rect x="311" y="86.1" width="1" height="7.7" fill="#40AB3A"/>
<rect x="312.6" y="86.1" width="1.1" height="7.7" fill="#1F78B4"/>
<rect x="324" y="86.1" width="1" height="7.7" fill="#E31A1C"/>
<rect x="331" y="86.1" width="1" height="7.7" fill="#40AB3A"/>
<rect x="351.2" y="86.1" width="1.2" height="7.7" fill="#40AB3A"/>
<rect x="363.4" y="86.1" width="1.1" height="7.7" fill="#40AB3A"/>
<rect x="364.5" y="86.1" width="2.5" height="7.7" fill="#E31A1C"/>
<rect x="367" y="86.1" width="2" height="7.7" fill="#40AB3A"/>
<rect x="279.4" y="85.4" width="135.6" height="0.7" fill="#E6E6E6"/>
<text x="277.1" y="91.86" font-size="5.3" text-anchor="end" fill="#333" font-style="italic">FBXW7</text>
<text x="415.9" y="91.79" font-size="5.1" fill="#4a4a4a" stroke="#4a4a4a" stroke-width="0.22">15%</text>
<rect x="279.4" y="94.5" width="1.6" height="7.7" fill="#0a0a0a"/>
<rect x="284.2" y="94.5" width="1.7" height="7.7" fill="#40AB3A"/>
<rect x="287.3" y="94.5" width="0.7" height="7.7" fill="#E31A1C"/>
<rect x="288" y="94.5" width="0.8" height="7.7" fill="#333333"/>
<rect x="289.6" y="94.5" width="1" height="7.7" fill="#40AB3A"/>
<rect x="296.4" y="94.5" width="1.6" height="7.7" fill="#40AB3A"/>
<rect x="300.6" y="94.5" width="1" height="7.7" fill="#40AB3A"/>
<rect x="303.7" y="94.5" width="1.3" height="7.7" fill="#40AB3A"/>
<rect x="311" y="94.5" width="1" height="7.7" fill="#40AB3A"/>
<rect x="314.2" y="94.5" width="1.6" height="7.7" fill="#40AB3A"/>
<rect x="327.5" y="94.5" width="1.1" height="7.7" fill="#40AB3A"/>
<rect x="352.9" y="94.5" width="0.9" height="7.7" fill="#40AB3A"/>
<rect x="363.1" y="94.5" width="0.7" height="7.7" fill="#40AB3A"/>
<rect x="369.5" y="94.5" width="0.9" height="7.7" fill="#40AB3A"/>
<rect x="370.4" y="94.5" width="1.4" height="7.7" fill="#0a0a0a"/>
<rect x="279.4" y="93.8" width="135.6" height="0.7" fill="#E6E6E6"/>
<text x="277.1" y="100.26" font-size="5.3" text-anchor="end" fill="#333" font-style="italic">MUC16</text>
<text x="415.9" y="100.19" font-size="5.1" fill="#4a4a4a" stroke="#4a4a4a" stroke-width="0.22">14%</text>
<rect x="281.2" y="102.9" width="0.8" height="7.7" fill="#40AB3A"/>
<rect x="282" y="102.9" width="1.3" height="7.7" fill="#1F78B4"/>
<rect x="289.4" y="102.9" width="1.2" height="7.7" fill="#FF7F00"/>
<rect x="296.4" y="102.9" width="1" height="7.7" fill="#40AB3A"/>
<rect x="298.8" y="102.9" width="1" height="7.7" fill="#40AB3A"/>
<rect x="301.6" y="102.9" width="1" height="7.7" fill="#40AB3A"/>
<rect x="305.8" y="102.9" width="0.7" height="7.7" fill="#40AB3A"/>
<rect x="313.9" y="102.9" width="1.1" height="7.7" fill="#40AB3A"/>
<rect x="332.3" y="102.9" width="1.3" height="7.7" fill="#0a0a0a"/>
<rect x="353.5" y="102.9" width="1" height="7.7" fill="#40AB3A"/>
<rect x="369.2" y="102.9" width="1" height="7.7" fill="#40AB3A"/>
<rect x="372.1" y="102.9" width="3.2" height="7.7" fill="#40AB3A"/>
<rect x="375.3" y="102.9" width="1" height="7.7" fill="#1F78B4"/>
<rect x="376.3" y="102.9" width="0.8" height="7.7" fill="#E31A1C"/>
<rect x="377.1" y="102.9" width="1.7" height="7.7" fill="#40AB3A"/>
<rect x="279.4" y="102.2" width="135.6" height="0.7" fill="#E6E6E6"/>
<text x="277.1" y="108.66" font-size="5.3" text-anchor="end" fill="#333" font-style="italic">DMD</text>
<text x="415.9" y="108.59" font-size="5.1" fill="#4a4a4a" stroke="#4a4a4a" stroke-width="0.22">14%</text>
<rect x="279.4" y="111.3" width="1.3" height="7.7" fill="#0a0a0a"/>
<rect x="280.7" y="111.3" width="0.8" height="7.7" fill="#40AB3A"/>
<rect x="283.8" y="111.3" width="1.1" height="7.7" fill="#333333"/>
<rect x="290.1" y="111.3" width="1.1" height="7.7" fill="#333333"/>
<rect x="296.4" y="111.3" width="1" height="7.7" fill="#40AB3A"/>
<rect x="306.1" y="111.3" width="1.3" height="7.7" fill="#0a0a0a"/>
<rect x="307.4" y="111.3" width="0.6" height="7.7" fill="#40AB3A"/>
<rect x="314.7" y="111.3" width="1.1" height="7.7" fill="#40AB3A"/>
<rect x="328.4" y="111.3" width="1" height="7.7" fill="#40AB3A"/>
<rect x="334.1" y="111.3" width="1.6" height="7.7" fill="#40AB3A"/>
<rect x="353.5" y="111.3" width="1" height="7.7" fill="#40AB3A"/>
<rect x="371.9" y="111.3" width="1.1" height="7.7" fill="#40AB3A"/>
<rect x="378.8" y="111.3" width="1.7" height="7.7" fill="#0a0a0a"/>
<rect x="279.4" y="110.6" width="135.6" height="0.7" fill="#E6E6E6"/>
<text x="277.1" y="117.06" font-size="5.3" text-anchor="end" fill="#333" font-style="italic">FLG</text>
<text x="415.9" y="116.99" font-size="5.1" fill="#4a4a4a" stroke="#4a4a4a" stroke-width="0.22">12%</text>
<rect x="279.4" y="119.7" width="1.3" height="7.7" fill="#E31A1C"/>
<rect x="283.3" y="119.7" width="1.6" height="7.7" fill="#0a0a0a"/>
<rect x="291.5" y="119.7" width="1" height="7.7" fill="#40AB3A"/>
<rect x="296" y="119.7" width="0.9" height="7.7" fill="#333333"/>
<rect x="297.8" y="119.7" width="1" height="7.7" fill="#E31A1C"/>
<rect x="302" y="119.7" width="1" height="7.7" fill="#333333"/>
<rect x="306.3" y="119.7" width="1.1" height="7.7" fill="#FF7F00"/>
<rect x="307.9" y="119.7" width="1.1" height="7.7" fill="#40AB3A"/>
<rect x="336.2" y="119.7" width="2.6" height="7.7" fill="#40AB3A"/>
<rect x="364" y="119.7" width="0.8" height="7.7" fill="#40AB3A"/>
<rect x="378.6" y="119.7" width="1.1" height="7.7" fill="#40AB3A"/>
<rect x="382.3" y="119.7" width="1.7" height="7.7" fill="#B15928"/>
<rect x="279.4" y="119" width="135.6" height="0.7" fill="#E6E6E6"/>
<text x="277.1" y="125.46" font-size="5.3" text-anchor="end" fill="#333" font-style="italic">KMT2D</text>
<text x="415.9" y="125.39" font-size="5.1" fill="#4a4a4a" stroke="#4a4a4a" stroke-width="0.22">12%</text>
<rect x="282.3" y="128.1" width="0.9" height="7.7" fill="#333333"/>
<rect x="283.2" y="128.1" width="0.6" height="7.7" fill="#40AB3A"/>
<rect x="284.4" y="128.1" width="1" height="7.7" fill="#40AB3A"/>
<rect x="286.5" y="128.1" width="1" height="7.7" fill="#40AB3A"/>
<rect x="290.6" y="128.1" width="0.8" height="7.7" fill="#333333"/>
<rect x="291.4" y="128.1" width="0.8" height="7.7" fill="#40AB3A"/>
<rect x="298.8" y="128.1" width="1" height="7.7" fill="#40AB3A"/>
<rect x="300.6" y="128.1" width="1.4" height="7.7" fill="#40AB3A"/>
<rect x="313.5" y="128.1" width="1" height="7.7" fill="#40AB3A"/>
<rect x="315.5" y="128.1" width="1.3" height="7.7" fill="#40AB3A"/>
<rect x="338.8" y="128.1" width="1" height="7.7" fill="#40AB3A"/>
<rect x="339.8" y="128.1" width="1.1" height="7.7" fill="#E31A1C"/>
<rect x="350.8" y="128.1" width="1.1" height="7.7" fill="#333333"/>
<rect x="381" y="128.1" width="1.3" height="7.7" fill="#40AB3A"/>
<rect x="384" y="128.1" width="2.9" height="7.7" fill="#40AB3A"/>
<rect x="279.4" y="127.4" width="135.6" height="0.7" fill="#E6E6E6"/>
<text x="277.1" y="133.86" font-size="5.3" text-anchor="end" fill="#333" font-style="italic">RYR2</text>
<text x="415.9" y="133.79" font-size="5.1" fill="#4a4a4a" stroke="#4a4a4a" stroke-width="0.22">12%</text>
<rect x="429.2" y="53.1" width="27.9" height="6.9" fill="#40AB3A"/>
<rect x="457.1" y="53.1" width="0.9" height="6.9" fill="#FF7F00"/>
<rect x="458" y="53.1" width="10.2" height="6.9" fill="#0a0a0a"/>
<rect x="429.2" y="61.5" width="31.7" height="6.9" fill="#40AB3A"/>
<rect x="460.9" y="61.5" width="5.1" height="6.9" fill="#0a0a0a"/>
<rect x="429.2" y="69.9" width="12.8" height="6.9" fill="#40AB3A"/>
<rect x="442" y="69.9" width="3.3" height="6.9" fill="#E31A1C"/>
<rect x="445.3" y="69.9" width="7.5" height="6.9" fill="#0a0a0a"/>
<rect x="429.2" y="78.3" width="10.6" height="6.9" fill="#40AB3A"/>
<rect x="439.8" y="78.3" width="4.7" height="6.9" fill="#E31A1C"/>
<rect x="444.5" y="78.3" width="0.8" height="6.9" fill="#1F78B4"/>
<rect x="445.3" y="78.3" width="5.7" height="6.9" fill="#0a0a0a"/>
<rect x="429.2" y="86.7" width="12.3" height="6.9" fill="#40AB3A"/>
<rect x="441.5" y="86.7" width="4.5" height="6.9" fill="#E31A1C"/>
<rect x="446" y="86.7" width="0.8" height="6.9" fill="#1F78B4"/>
<rect x="429.2" y="95.1" width="14.3" height="6.9" fill="#40AB3A"/>
<rect x="443.5" y="95.1" width="0.7" height="6.9" fill="#E31A1C"/>
<rect x="444.2" y="95.1" width="1.8" height="6.9" fill="#0a0a0a"/>
<rect x="429.2" y="103.5" width="12.3" height="6.9" fill="#40AB3A"/>
<rect x="441.5" y="103.5" width="1" height="6.9" fill="#FF7F00"/>
<rect x="442.5" y="103.5" width="1.3" height="6.9" fill="#1F78B4"/>
<rect x="443.8" y="103.5" width="0.8" height="6.9" fill="#0a0a0a"/>
<rect x="429.2" y="111.9" width="8.8" height="6.9" fill="#40AB3A"/>
<rect x="438" y="111.9" width="4.8" height="6.9" fill="#0a0a0a"/>
<rect x="429.2" y="120.3" width="7.3" height="6.9" fill="#40AB3A"/>
<rect x="436.5" y="120.3" width="2.5" height="6.9" fill="#E31A1C"/>
<rect x="439" y="120.3" width="1" height="6.9" fill="#FF7F00"/>
<rect x="440" y="120.3" width="2.8" height="6.9" fill="#0a0a0a"/>
<rect x="429.2" y="128.7" width="10.3" height="6.9" fill="#40AB3A"/>
<rect x="439.5" y="128.7" width="0.7" height="6.9" fill="#E31A1C"/>
<rect x="440.2" y="128.7" width="2.3" height="6.9" fill="#0a0a0a"/>
<line x1="429.2" y1="50.9" x2="468.2" y2="50.9" stroke="#333" stroke-width="0.6"/>
<line x1="429.2" y1="48.8" x2="429.2" y2="51.2" stroke="#333" stroke-width="0.6"/>
<line x1="468.2" y1="48.8" x2="468.2" y2="51.2" stroke="#333" stroke-width="0.6"/>
<text x="429.2" y="45.38" font-size="4.4" text-anchor="middle" fill="#333" stroke="#333" stroke-width="0.12">0</text>
<text x="468.2" y="45.38" font-size="4.4" text-anchor="middle" fill="#333" stroke="#333" stroke-width="0.12">48</text>
<line x1="276.6" y1="33" x2="276.6" y2="50.7" stroke="#333" stroke-width="0.6"/>
<line x1="274" y1="33.3" x2="276.6" y2="33.3" stroke="#333" stroke-width="0.6"/>
<line x1="274" y1="50.4" x2="276.6" y2="50.4" stroke="#333" stroke-width="0.6"/>
<text x="272" y="35" font-size="3.9" text-anchor="end" fill="#444" stroke="#444" stroke-width="0.12">1163</text>
<text x="271.8" y="51.5" font-size="3.9" text-anchor="end" fill="#444" stroke="#444" stroke-width="0.12">0</text>
<rect x="279.4" y="49.84" width="0.79" height="0.66" fill="#40AB3A"/>
<rect x="280.33" y="49.44" width="0.79" height="1.06" fill="#40AB3A"/>
<rect x="281.26" y="49.79" width="0.79" height="0.71" fill="#40AB3A"/>
<rect x="282.19" y="50.06" width="0.79" height="0.44" fill="#40AB3A"/>
<rect x="283.12" y="49.69" width="0.79" height="0.81" fill="#40AB3A"/>
<rect x="284.04" y="50.14" width="0.79" height="0.36" fill="#40AB3A"/>
<rect x="284.04" y="50.14" width="0.79" height="0.18" fill="#FF7F00"/>
<rect x="284.97" y="50.14" width="0.79" height="0.36" fill="#40AB3A"/>
<rect x="285.9" y="49.64" width="0.79" height="0.86" fill="#40AB3A"/>
<rect x="285.9" y="49.64" width="0.79" height="0.43" fill="#FF7F00"/>
<rect x="286.83" y="49.39" width="0.79" height="1.11" fill="#40AB3A"/>
<rect x="287.76" y="49.67" width="0.79" height="0.83" fill="#40AB3A"/>
<rect x="288.69" y="50.09" width="0.79" height="0.41" fill="#40AB3A"/>
<rect x="288.69" y="50.09" width="0.79" height="0.21" fill="#FF7F00"/>
<rect x="289.62" y="49.78" width="0.79" height="0.72" fill="#40AB3A"/>
<rect x="289.62" y="49.78" width="0.79" height="0.36" fill="#FF7F00"/>
<rect x="290.55" y="50.06" width="0.79" height="0.44" fill="#40AB3A"/>
<rect x="290.55" y="50.06" width="0.79" height="0.22" fill="#FF7F00"/>
<rect x="291.47" y="50.19" width="0.79" height="0.31" fill="#40AB3A"/>
<rect x="292.4" y="49.85" width="0.79" height="0.65" fill="#40AB3A"/>
<rect x="293.33" y="49.78" width="0.79" height="0.72" fill="#40AB3A"/>
<rect x="294.26" y="49.8" width="0.79" height="0.7" fill="#40AB3A"/>
<rect x="295.19" y="49.84" width="0.79" height="0.66" fill="#40AB3A"/>
<rect x="295.19" y="49.84" width="0.79" height="0.33" fill="#FF7F00"/>
<rect x="296.12" y="49.38" width="0.79" height="1.12" fill="#40AB3A"/>
<rect x="297.05" y="49.51" width="0.79" height="0.99" fill="#40AB3A"/>
<rect x="297.98" y="49.96" width="0.79" height="0.54" fill="#40AB3A"/>
<rect x="297.98" y="49.96" width="0.79" height="0.27" fill="#FF7F00"/>
<rect x="298.9" y="49.98" width="0.79" height="0.52" fill="#40AB3A"/>
<rect x="298.9" y="49.98" width="0.79" height="0.26" fill="#FF7F00"/>
<rect x="299.83" y="49.58" width="0.79" height="0.92" fill="#40AB3A"/>
<rect x="300.76" y="49.51" width="0.79" height="0.99" fill="#40AB3A"/>
<rect x="301.69" y="49.42" width="0.79" height="1.08" fill="#40AB3A"/>
<rect x="302.62" y="50.22" width="0.79" height="0.28" fill="#40AB3A"/>
<rect x="302.62" y="50.22" width="0.79" height="0.14" fill="#FF7F00"/>
<rect x="303.55" y="49.46" width="0.79" height="1.04" fill="#40AB3A"/>
<rect x="304.48" y="49.4" width="0.79" height="1.1" fill="#40AB3A"/>
<rect x="305.41" y="50.16" width="0.79" height="0.34" fill="#40AB3A"/>
<rect x="306.33" y="49.57" width="0.79" height="0.93" fill="#40AB3A"/>
<rect x="306.33" y="49.57" width="0.79" height="0.47" fill="#FF7F00"/>
<rect x="307.26" y="50.15" width="0.79" height="0.35" fill="#40AB3A"/>
<rect x="307.26" y="50.15" width="0.79" height="0.18" fill="#FF7F00"/>
<rect x="308.19" y="49.41" width="0.79" height="1.09" fill="#40AB3A"/>
<rect x="309.12" y="50.12" width="0.79" height="0.38" fill="#40AB3A"/>
<rect x="309.12" y="50.12" width="0.79" height="0.19" fill="#FF7F00"/>
<rect x="310.05" y="50.14" width="0.79" height="0.36" fill="#40AB3A"/>
<rect x="310.05" y="50.14" width="0.79" height="0.18" fill="#FF7F00"/>
<rect x="310.98" y="49.55" width="0.79" height="0.95" fill="#40AB3A"/>
<rect x="310.98" y="49.55" width="0.79" height="0.47" fill="#FF7F00"/>
<rect x="311.91" y="49.75" width="0.79" height="0.75" fill="#40AB3A"/>
<rect x="312.84" y="50.06" width="0.79" height="0.44" fill="#40AB3A"/>
<rect x="313.76" y="50.11" width="0.79" height="0.39" fill="#40AB3A"/>
<rect x="314.69" y="50.12" width="0.79" height="0.38" fill="#40AB3A"/>
<rect x="315.62" y="50.04" width="0.79" height="0.46" fill="#40AB3A"/>
<rect x="315.62" y="50.04" width="0.79" height="0.23" fill="#FF7F00"/>
<rect x="316.55" y="49.4" width="0.79" height="1.1" fill="#40AB3A"/>
<rect x="317.48" y="49.96" width="0.79" height="0.54" fill="#40AB3A"/>
<rect x="318.41" y="50.04" width="0.79" height="0.46" fill="#40AB3A"/>
<rect x="319.34" y="49.5" width="0.79" height="1" fill="#40AB3A"/>
<rect x="320.27" y="50.14" width="0.79" height="0.36" fill="#40AB3A"/>
<rect x="321.19" y="50.04" width="0.79" height="0.46" fill="#40AB3A"/>
<rect x="321.19" y="50.04" width="0.79" height="0.23" fill="#FF7F00"/>
<rect x="322.12" y="49.57" width="0.79" height="0.93" fill="#40AB3A"/>
<rect x="322.12" y="49.57" width="0.79" height="0.46" fill="#FF7F00"/>
<rect x="323.05" y="49.97" width="0.79" height="0.53" fill="#40AB3A"/>
<rect x="323.05" y="49.97" width="0.79" height="0.26" fill="#FF7F00"/>
<rect x="323.98" y="50.14" width="0.79" height="0.36" fill="#40AB3A"/>
<rect x="324.91" y="50.02" width="0.79" height="0.48" fill="#40AB3A"/>
<rect x="325.84" y="49.91" width="0.79" height="0.59" fill="#40AB3A"/>
<rect x="326.77" y="49.41" width="0.79" height="1.09" fill="#40AB3A"/>
<rect x="327.7" y="49.74" width="0.79" height="0.76" fill="#40AB3A"/>
<rect x="328.62" y="50.07" width="0.79" height="0.43" fill="#40AB3A"/>
<rect x="328.62" y="50.07" width="0.79" height="0.22" fill="#FF7F00"/>
<rect x="329.55" y="49.46" width="0.79" height="1.04" fill="#40AB3A"/>
<rect x="330.48" y="50.01" width="0.79" height="0.49" fill="#40AB3A"/>
<rect x="330.48" y="50.01" width="0.79" height="0.24" fill="#FF7F00"/>
<rect x="331.41" y="49.6" width="0.79" height="0.9" fill="#40AB3A"/>
<rect x="332.34" y="50.05" width="0.79" height="0.45" fill="#40AB3A"/>
<rect x="333.27" y="49.48" width="0.79" height="1.02" fill="#40AB3A"/>
<rect x="334.2" y="49.87" width="0.79" height="0.63" fill="#40AB3A"/>
<rect x="334.2" y="49.87" width="0.79" height="0.32" fill="#FF7F00"/>
<rect x="335.13" y="50.19" width="0.79" height="0.31" fill="#40AB3A"/>
<rect x="336.05" y="50.02" width="0.79" height="0.48" fill="#40AB3A"/>
<rect x="336.98" y="50" width="0.79" height="0.5" fill="#40AB3A"/>
<rect x="337.91" y="49.72" width="0.79" height="0.78" fill="#40AB3A"/>
<rect x="337.91" y="49.72" width="0.79" height="0.39" fill="#FF7F00"/>
<rect x="338.84" y="50.07" width="0.79" height="0.43" fill="#40AB3A"/>
<rect x="339.77" y="50.16" width="0.79" height="0.34" fill="#40AB3A"/>
<rect x="339.77" y="50.16" width="0.79" height="0.17" fill="#FF7F00"/>
<rect x="340.7" y="49.75" width="0.79" height="0.75" fill="#40AB3A"/>
<rect x="341.63" y="49.7" width="0.79" height="0.8" fill="#40AB3A"/>
<rect x="341.63" y="49.7" width="0.79" height="0.4" fill="#FF7F00"/>
<rect x="342.56" y="49.45" width="0.79" height="1.05" fill="#40AB3A"/>
<rect x="342.56" y="49.45" width="0.79" height="0.53" fill="#FF7F00"/>
<rect x="343.48" y="50.21" width="0.79" height="0.29" fill="#40AB3A"/>
<rect x="343.48" y="50.21" width="0.79" height="0.15" fill="#FF7F00"/>
<rect x="344.41" y="49.85" width="0.79" height="0.65" fill="#40AB3A"/>
<rect x="344.41" y="49.85" width="0.79" height="0.33" fill="#FF7F00"/>
<rect x="345.34" y="50.07" width="0.79" height="0.43" fill="#40AB3A"/>
<rect x="346.27" y="49.74" width="0.79" height="0.76" fill="#40AB3A"/>
<rect x="346.27" y="49.74" width="0.79" height="0.38" fill="#FF7F00"/>
<rect x="347.2" y="49.92" width="0.79" height="0.58" fill="#40AB3A"/>
<rect x="348.13" y="49.4" width="0.79" height="1.1" fill="#40AB3A"/>
<rect x="349.06" y="49.64" width="0.79" height="0.86" fill="#40AB3A"/>
<rect x="349.99" y="50.1" width="0.79" height="0.4" fill="#40AB3A"/>
<rect x="349.99" y="50.1" width="0.79" height="0.2" fill="#FF7F00"/>
<rect x="350.92" y="50.2" width="0.79" height="0.3" fill="#40AB3A"/>
<rect x="351.84" y="49.63" width="0.79" height="0.87" fill="#40AB3A"/>
<rect x="352.77" y="50.2" width="0.79" height="0.3" fill="#40AB3A"/>
<rect x="353.7" y="49.81" width="0.79" height="0.69" fill="#40AB3A"/>
<rect x="354.63" y="49.95" width="0.79" height="0.55" fill="#40AB3A"/>
<rect x="355.56" y="50.16" width="0.79" height="0.34" fill="#40AB3A"/>
<rect x="356.49" y="49.6" width="0.79" height="0.9" fill="#40AB3A"/>
<rect x="357.42" y="49.6" width="0.79" height="0.9" fill="#40AB3A"/>
<rect x="358.35" y="49.55" width="0.79" height="0.95" fill="#40AB3A"/>
<rect x="359.27" y="49.92" width="0.79" height="0.58" fill="#40AB3A"/>
<rect x="360.2" y="49.46" width="0.79" height="1.04" fill="#40AB3A"/>
<rect x="361.13" y="49.87" width="0.79" height="0.63" fill="#40AB3A"/>
<rect x="362.06" y="49.49" width="0.79" height="1.01" fill="#40AB3A"/>
<rect x="362.99" y="49.7" width="0.79" height="0.8" fill="#40AB3A"/>
<rect x="363.92" y="49.73" width="0.79" height="0.77" fill="#40AB3A"/>
<rect x="364.85" y="50.15" width="0.79" height="0.35" fill="#40AB3A"/>
<rect x="365.78" y="49.39" width="0.79" height="1.11" fill="#40AB3A"/>
<rect x="366.7" y="49.61" width="0.79" height="0.89" fill="#40AB3A"/>
<rect x="367.63" y="49.6" width="0.79" height="0.9" fill="#40AB3A"/>
<rect x="368.56" y="49.85" width="0.79" height="0.65" fill="#40AB3A"/>
<rect x="369.49" y="50.15" width="0.79" height="0.35" fill="#40AB3A"/>
<rect x="370.42" y="50.19" width="0.79" height="0.31" fill="#40AB3A"/>
<rect x="371.35" y="49.82" width="0.79" height="0.68" fill="#40AB3A"/>
<rect x="371.35" y="49.82" width="0.79" height="0.34" fill="#FF7F00"/>
<rect x="372.28" y="49.63" width="0.79" height="0.87" fill="#40AB3A"/>
<rect x="373.21" y="49.7" width="0.79" height="0.8" fill="#40AB3A"/>
<rect x="374.13" y="50.01" width="0.79" height="0.49" fill="#40AB3A"/>
<rect x="374.13" y="50.01" width="0.79" height="0.25" fill="#FF7F00"/>
<rect x="375.06" y="49.97" width="0.79" height="0.53" fill="#40AB3A"/>
<rect x="375.99" y="50.05" width="0.79" height="0.45" fill="#40AB3A"/>
<rect x="375.99" y="50.05" width="0.79" height="0.23" fill="#FF7F00"/>
<rect x="376.92" y="49.46" width="0.79" height="1.04" fill="#40AB3A"/>
<rect x="377.85" y="49.85" width="0.79" height="0.65" fill="#40AB3A"/>
<rect x="378.78" y="49.95" width="0.79" height="0.55" fill="#40AB3A"/>
<rect x="379.71" y="50.05" width="0.79" height="0.45" fill="#40AB3A"/>
<rect x="380.64" y="49.54" width="0.79" height="0.96" fill="#40AB3A"/>
<rect x="381.56" y="49.48" width="0.79" height="1.02" fill="#40AB3A"/>
<rect x="382.49" y="49.73" width="0.79" height="0.77" fill="#40AB3A"/>
<rect x="382.49" y="49.73" width="0.79" height="0.38" fill="#FF7F00"/>
<rect x="383.42" y="50.11" width="0.79" height="0.39" fill="#40AB3A"/>
<rect x="384.35" y="49.52" width="0.79" height="0.98" fill="#40AB3A"/>
<rect x="385.28" y="49.62" width="0.79" height="0.88" fill="#40AB3A"/>
<rect x="386.21" y="49.99" width="0.79" height="0.51" fill="#40AB3A"/>
<rect x="386.21" y="49.99" width="0.79" height="0.26" fill="#FF7F00"/>
<rect x="387.14" y="49.84" width="0.79" height="0.66" fill="#40AB3A"/>
<rect x="387.14" y="49.84" width="0.79" height="0.33" fill="#FF7F00"/>
<rect x="388.07" y="50.04" width="0.79" height="0.46" fill="#40AB3A"/>
<rect x="388.99" y="49.69" width="0.79" height="0.81" fill="#40AB3A"/>
<rect x="389.92" y="49.96" width="0.79" height="0.54" fill="#40AB3A"/>
<rect x="390.85" y="49.4" width="0.79" height="1.1" fill="#40AB3A"/>
<rect x="391.78" y="50.16" width="0.79" height="0.34" fill="#40AB3A"/>
<rect x="391.78" y="50.16" width="0.79" height="0.17" fill="#FF7F00"/>
<rect x="392.71" y="49.49" width="0.79" height="1.01" fill="#40AB3A"/>
<rect x="392.71" y="49.49" width="0.79" height="0.51" fill="#FF7F00"/>
<rect x="393.64" y="49.62" width="0.79" height="0.88" fill="#40AB3A"/>
<rect x="394.57" y="49.96" width="0.79" height="0.54" fill="#40AB3A"/>
<rect x="395.5" y="50.2" width="0.79" height="0.3" fill="#40AB3A"/>
<rect x="395.5" y="50.2" width="0.79" height="0.15" fill="#FF7F00"/>
<rect x="396.42" y="49.84" width="0.79" height="0.66" fill="#40AB3A"/>
<rect x="396.42" y="49.84" width="0.79" height="0.33" fill="#FF7F00"/>
<rect x="397.35" y="49.52" width="0.79" height="0.98" fill="#40AB3A"/>
<rect x="397.35" y="49.52" width="0.79" height="0.49" fill="#FF7F00"/>
<rect x="398.28" y="50.1" width="0.79" height="0.4" fill="#40AB3A"/>
<rect x="398.28" y="50.1" width="0.79" height="0.2" fill="#FF7F00"/>
<rect x="399.21" y="49.69" width="0.79" height="0.81" fill="#40AB3A"/>
<rect x="400.14" y="49.69" width="0.79" height="0.81" fill="#40AB3A"/>
<rect x="401.07" y="49.54" width="0.79" height="0.96" fill="#40AB3A"/>
<rect x="402" y="49.65" width="0.79" height="0.85" fill="#40AB3A"/>
<rect x="402" y="49.65" width="0.79" height="0.43" fill="#FF7F00"/>
<rect x="402.93" y="49.82" width="0.79" height="0.68" fill="#40AB3A"/>
<rect x="402.93" y="49.82" width="0.79" height="0.34" fill="#FF7F00"/>
<rect x="403.85" y="50.21" width="0.79" height="0.29" fill="#40AB3A"/>
<rect x="404.78" y="49.62" width="0.79" height="0.88" fill="#40AB3A"/>
<rect x="404.78" y="49.62" width="0.79" height="0.44" fill="#FF7F00"/>
<rect x="405.71" y="49.99" width="0.79" height="0.51" fill="#40AB3A"/>
<rect x="405.71" y="49.99" width="0.79" height="0.25" fill="#FF7F00"/>
<rect x="406.64" y="49.63" width="0.79" height="0.87" fill="#40AB3A"/>
<rect x="407.57" y="49.7" width="0.79" height="0.8" fill="#40AB3A"/>
<rect x="408.5" y="49.89" width="0.79" height="0.61" fill="#40AB3A"/>
<rect x="409.43" y="49.46" width="0.79" height="1.04" fill="#40AB3A"/>
<rect x="409.43" y="49.46" width="0.79" height="0.52" fill="#FF7F00"/>
<rect x="410.36" y="49.44" width="0.79" height="1.06" fill="#40AB3A"/>
<rect x="411.28" y="50.11" width="0.79" height="0.39" fill="#40AB3A"/>
<rect x="412.21" y="49.69" width="0.79" height="0.81" fill="#40AB3A"/>
<rect x="413.14" y="49.9" width="0.79" height="0.6" fill="#40AB3A"/>
<rect x="414.07" y="49.48" width="0.79" height="1.02" fill="#40AB3A"/>
<rect x="279.4" y="49.03" width="0.9" height="1.47" fill="#40AB3A"/>
<rect x="280.35" y="49.29" width="0.9" height="1.21" fill="#40AB3A"/>
<rect x="281.3" y="48.71" width="0.9" height="1.79" fill="#40AB3A"/>
<rect x="282.25" y="49.19" width="0.9" height="1.31" fill="#40AB3A"/>
<rect x="283.2" y="49.37" width="0.9" height="1.13" fill="#40AB3A"/>
<rect x="284.15" y="48.7" width="0.9" height="1.8" fill="#40AB3A"/>
<rect x="285.1" y="47.66" width="0.9" height="2.84" fill="#40AB3A"/>
<rect x="286.05" y="47.9" width="0.9" height="2.6" fill="#40AB3A"/>
<rect x="287" y="47.97" width="0.9" height="2.53" fill="#40AB3A"/>
<rect x="287.95" y="49.06" width="0.9" height="1.44" fill="#40AB3A"/>
<rect x="288.9" y="48.43" width="0.9" height="2.07" fill="#40AB3A"/>
<rect x="289.85" y="48.95" width="0.9" height="1.55" fill="#40AB3A"/>
<rect x="290.8" y="49.15" width="0.9" height="1.35" fill="#40AB3A"/>
<rect x="291.75" y="49.29" width="0.9" height="1.21" fill="#40AB3A"/>
<rect x="292.7" y="49.07" width="0.9" height="1.43" fill="#40AB3A"/>
<rect x="293.65" y="47.65" width="0.9" height="2.85" fill="#40AB3A"/>
<rect x="294.6" y="47.84" width="0.9" height="2.66" fill="#40AB3A"/>
<rect x="295.55" y="47.89" width="0.9" height="2.61" fill="#40AB3A"/>
<rect x="296.5" y="47.9" width="0.9" height="2.6" fill="#40AB3A"/>
<rect x="297.45" y="49.11" width="0.9" height="1.39" fill="#40AB3A"/>
<rect x="298.4" y="48.88" width="0.9" height="1.62" fill="#40AB3A"/>
<rect x="299.35" y="48.25" width="0.9" height="2.25" fill="#40AB3A"/>
<rect x="300.3" y="48.04" width="0.9" height="2.46" fill="#40AB3A"/>
<rect x="301.25" y="47.79" width="0.9" height="2.71" fill="#40AB3A"/>
<rect x="302.2" y="47.74" width="0.9" height="2.76" fill="#40AB3A"/>
<rect x="303.15" y="49.33" width="0.9" height="1.17" fill="#40AB3A"/>
<rect x="304.1" y="48.29" width="0.9" height="2.21" fill="#40AB3A"/>
<rect x="305.05" y="48.16" width="0.9" height="2.34" fill="#40AB3A"/>
<rect x="306" y="48.49" width="0.9" height="2.01" fill="#40AB3A"/>
<rect x="306.95" y="49.14" width="0.9" height="1.36" fill="#40AB3A"/>
<rect x="307.9" y="48.55" width="0.9" height="1.95" fill="#40AB3A"/>
<rect x="308.85" y="49.32" width="0.9" height="1.18" fill="#40AB3A"/>
<rect x="309.8" y="47.63" width="0.9" height="2.87" fill="#40AB3A"/>
<rect x="310.75" y="47.77" width="0.9" height="2.73" fill="#40AB3A"/>
<rect x="311.7" y="48.4" width="0.9" height="2.1" fill="#40AB3A"/>
<rect x="279.1" y="39.8" width="1.1" height="10.7" fill="#40AB3A"/>
<rect x="279.1" y="39.8" width="1.1" height="1.2" fill="#F05A5A"/>
<rect x="280" y="47.3" width="0.9" height="3.2" fill="#40AB3A"/>
<rect x="281" y="33.9" width="1.1" height="16.6" fill="#40AB3A"/>
<rect x="281" y="33.9" width="1.1" height="1.2" fill="#F05A5A"/>
<rect x="282" y="36.4" width="1.1" height="14.1" fill="#40AB3A"/>
<rect x="282" y="36.4" width="1.1" height="1.2" fill="#F05A5A"/>
<rect x="283.2" y="45.2" width="1" height="5.3" fill="#40AB3A"/>
<rect x="283.2" y="45.2" width="1" height="1.2" fill="#F05A5A"/>
<rect x="284" y="45.6" width="0.9" height="4.9" fill="#40AB3A"/>
<rect x="284.9" y="39.4" width="1" height="11.1" fill="#40AB3A"/>
<rect x="284.9" y="39.4" width="1" height="1.2" fill="#F05A5A"/>
<rect x="285.8" y="47.7" width="0.9" height="2.8" fill="#40AB3A"/>
<rect x="287.2" y="46.1" width="1" height="4.4" fill="#40AB3A"/>
<rect x="287.2" y="46.1" width="1" height="1.2" fill="#F05A5A"/>
<rect x="288.6" y="47.7" width="0.9" height="2.8" fill="#40AB3A"/>
<rect x="289.6" y="44" width="1" height="6.5" fill="#40AB3A"/>
<rect x="289.6" y="44" width="1" height="1.2" fill="#F05A5A"/>
<rect x="290.7" y="47.3" width="0.9" height="3.2" fill="#40AB3A"/>
<rect x="292" y="47.7" width="0.9" height="2.8" fill="#40AB3A"/>
<rect x="293.2" y="48.2" width="0.9" height="2.3" fill="#40AB3A"/>
<rect x="295.1" y="34.3" width="1.1" height="16.2" fill="#40AB3A"/>
<rect x="295.1" y="34.3" width="1.1" height="1.2" fill="#F05A5A"/>
<rect x="296.2" y="45.2" width="0.9" height="5.3" fill="#40AB3A"/>
<rect x="297.4" y="48.2" width="0.9" height="2.3" fill="#40AB3A"/>
<rect x="298.9" y="44" width="1" height="6.5" fill="#40AB3A"/>
<rect x="298.9" y="44" width="1" height="1.2" fill="#F05A5A"/>
<rect x="300.3" y="48.2" width="0.9" height="2.3" fill="#40AB3A"/>
<rect x="301.6" y="46.1" width="1" height="4.4" fill="#40AB3A"/>
<rect x="301.6" y="46.1" width="1" height="1.2" fill="#F05A5A"/>
<rect x="303.3" y="47.7" width="0.9" height="2.8" fill="#40AB3A"/>
<rect x="305" y="46.5" width="1" height="4" fill="#40AB3A"/>
<rect x="305" y="46.5" width="1" height="1.2" fill="#FF7F00"/>
<rect x="306.6" y="48.2" width="0.9" height="2.3" fill="#40AB3A"/>
<rect x="308.3" y="48.2" width="0.9" height="2.3" fill="#40AB3A"/>
<rect x="310" y="46.1" width="1" height="4.4" fill="#40AB3A"/>
<rect x="310" y="46.1" width="1" height="1.2" fill="#F05A5A"/>
<rect x="312.5" y="48.8" width="0.9" height="1.7" fill="#40AB3A"/>
<rect x="314.5" y="48.9" width="0.9" height="1.6" fill="#40AB3A"/>
<rect x="316.5" y="48.8" width="0.9" height="1.7" fill="#40AB3A"/>
<rect x="328.1" y="42.6" width="0.9" height="7.9" fill="#40AB3A"/>
<rect x="328.1" y="42.6" width="0.9" height="1.2" fill="#F05A5A"/>
<rect x="326" y="48.8" width="0.9" height="1.7" fill="#40AB3A"/>
<rect x="330" y="48.9" width="0.9" height="1.6" fill="#40AB3A"/>
<circle cx="262.6" cy="145" r="1.25" fill="#40AB3A"/>
<text x="266.2" y="146.8" font-size="5" fill="#222" stroke="#222" stroke-width="0.22">Missense_Mutation</text>
<circle cx="262.6" cy="150.6" r="1.25" fill="#E31A1C"/>
<text x="266.2" y="152.4" font-size="5" fill="#222" stroke="#222" stroke-width="0.22">Nonsense_Mutation</text>
<circle cx="262.6" cy="156.2" r="1.25" fill="#FF7F00"/>
<text x="266.2" y="158" font-size="5" fill="#222" stroke="#222" stroke-width="0.22">Splice_Site</text>
<circle cx="262.6" cy="161.8" r="1.25" fill="#FFFF99"/>
<text x="266.2" y="163.6" font-size="5" fill="#222" stroke="#222" stroke-width="0.22">In_Frame_Del</text>
<circle cx="315.8" cy="145" r="1.25" fill="#1F78B4"/>
<text x="319.4" y="146.8" font-size="5" fill="#222" stroke="#222" stroke-width="0.22">Frame_Shift_Del</text>
<circle cx="315.8" cy="150.6" r="1.25" fill="#6A3D9A"/>
<text x="319.4" y="152.4" font-size="5" fill="#222" stroke="#222" stroke-width="0.22">Frame_Shift_Ins</text>
<circle cx="315.8" cy="156.2" r="1.25" fill="#A6CEE3"/>
<text x="319.4" y="158" font-size="5" fill="#222" stroke="#222" stroke-width="0.22">Nonstop_Mutation</text>
<circle cx="315.8" cy="161.8" r="1.25" fill="#000"/>
<text x="319.4" y="163.6" font-size="5" fill="#222" stroke="#222" stroke-width="0.22">Multi_Hit</text>
<text x="12.6" y="188.1" font-size="16" class="r" font-weight="bold">C</text>
<text x="105" y="194.44" font-size="5.4" fill="#222" stroke="#222" stroke-width="0.22" textLength="10.9" lengthAdjust="spacingAndGlyphs">Risk</text>
<rect x="118.6" y="188.8" width="8.2" height="7.6" fill="#F55F45" stroke="#333" stroke-width="0.5"/>
<text x="129.8" y="194.16" font-size="4.6" fill="#333" stroke="#333" stroke-width="0.22" textLength="9" lengthAdjust="spacingAndGlyphs">high</text>
<rect x="141.1" y="188.8" width="8.2" height="7.6" fill="#00F2F2" stroke="#333" stroke-width="0.5"/>
<text x="151.9" y="194.16" font-size="4.6" fill="#333" stroke="#333" stroke-width="0.22" textLength="7" lengthAdjust="spacingAndGlyphs">low</text>
<line x1="41.1" y1="205" x2="41.1" y2="334.4" stroke="#222" stroke-width="0.8"/>
<line x1="41.1" y1="334.4" x2="222.8" y2="334.4" stroke="#222" stroke-width="0.8"/>
<line x1="39.4" y1="208.6" x2="41.1" y2="208.6" stroke="#222" stroke-width="0.6"/>
<text x="38.9" y="210.54" font-size="5.4" text-anchor="end" fill="#333" stroke="#333" stroke-width="0.22">3</text>
<line x1="39.4" y1="236.4" x2="41.1" y2="236.4" stroke="#222" stroke-width="0.6"/>
<text x="38.9" y="238.34" font-size="5.4" text-anchor="end" fill="#333" stroke="#333" stroke-width="0.22">2</text>
<line x1="39.4" y1="264.2" x2="41.1" y2="264.2" stroke="#222" stroke-width="0.6"/>
<text x="38.9" y="266.14" font-size="5.4" text-anchor="end" fill="#333" stroke="#333" stroke-width="0.22">1</text>
<line x1="39.4" y1="292" x2="41.1" y2="292" stroke="#222" stroke-width="0.6"/>
<text x="38.9" y="293.94" font-size="5.4" text-anchor="end" fill="#333" stroke="#333" stroke-width="0.22">0</text>
<line x1="39.4" y1="319.8" x2="41.1" y2="319.8" stroke="#222" stroke-width="0.6"/>
<text x="38.9" y="321.74" font-size="5.4" text-anchor="end" fill="#333" stroke="#333" stroke-width="0.22">-1</text>
<text x="28" y="271.52" font-size="5.6" text-anchor="middle" fill="#222" stroke="#222" stroke-width="0.22" textLength="31.5" lengthAdjust="spacingAndGlyphs" transform="rotate(-90 28 269.5)">Log10(TMB)</text>
<line x1="90.7" y1="334.4" x2="90.7" y2="336" stroke="#333" stroke-width="0.5"/>
<text x="90.7" y="341.22" font-size="5.9" text-anchor="middle" fill="#222" stroke="#222" stroke-width="0.22">high</text>
<line x1="173.4" y1="334.4" x2="173.4" y2="336" stroke="#333" stroke-width="0.5"/>
<text x="173.4" y="341.22" font-size="5.9" text-anchor="middle" fill="#222" stroke="#222" stroke-width="0.22">low</text>
<text x="131.8" y="348.22" font-size="5.6" text-anchor="middle" fill="#111" stroke="#111" stroke-width="0.22">Risk</text>
<polyline points="90.6,213.3 90.6,210.9 173.2,210.9 173.2,213.3" fill="none" stroke="#555" stroke-width="0.6"/>
<text x="132" y="209.33" font-size="4.8" text-anchor="middle" fill="#222" stroke="#222" stroke-width="0.22">ns</text>
<polyline points="90.6,224.8 90.6,222.4 173.2,222.4 173.2,224.8" fill="none" stroke="#555" stroke-width="0.6"/>
<text x="132" y="220.93" font-size="4.8" text-anchor="middle" fill="#222" stroke="#222" stroke-width="0.22">ns</text>
<polygon points="90.7,238.9 90.66,239.05 90.6,239.25 90.54,239.48 90.47,239.73 90.39,240.01 90.3,240.31 90.21,240.61 90.11,240.91 90.01,241.21 89.9,241.5 89.78,241.78 89.65,242.07 89.51,242.37 89.35,242.67 89.2,242.97 89.05,243.27 88.89,243.58 88.75,243.89 88.62,244.19 88.5,244.5 88.39,244.81 88.29,245.12 88.19,245.43 88.1,245.74 88.01,246.06 87.93,246.37 87.86,246.68 87.8,246.99 87.74,247.3 87.7,247.6 87.66,247.9 87.64,248.19 87.62,248.48 87.6,248.77 87.6,249.06 87.6,249.34 87.62,249.63 87.64,249.92 87.66,250.21 87.7,250.5 87.75,250.8 87.81,251.09 87.89,251.39 87.98,251.69 88.07,251.99 88.16,252.3 88.26,252.6 88.35,252.9 88.43,253.2 88.5,253.5 88.57,253.8 88.64,254.1 88.72,254.41 88.79,254.71 88.86,255.02 88.92,255.32 88.97,255.62 89,255.92 89.01,256.21 89,256.5 88.96,256.78 88.9,257.04 88.83,257.28 88.73,257.53 88.62,257.78 88.51,258.03 88.38,258.29 88.26,258.57 88.13,258.87 88,259.2 87.88,259.56 87.75,259.96 87.62,260.38 87.49,260.82 87.35,261.27 87.2,261.73 87.05,262.17 86.88,262.61 86.7,263.02 86.5,263.4 86.3,263.75 86.09,264.09 85.88,264.41 85.66,264.72 85.43,265.02 85.18,265.31 84.91,265.6 84.6,265.9 84.27,266.19 83.9,266.5 83.49,266.81 83.06,267.12 82.59,267.43 82.1,267.74 81.59,268.04 81.05,268.35 80.49,268.66 79.91,268.97 79.31,269.29 78.7,269.6 78.06,269.92 77.38,270.24 76.66,270.56 75.93,270.88 75.17,271.2 74.42,271.52 73.66,271.84 72.92,272.16 72.2,272.48 71.5,272.8 70.82,273.11 70.15,273.42 69.48,273.73 68.82,274.04 68.18,274.35 67.54,274.66 66.91,274.97 66.29,275.28 65.69,275.59 65.1,275.9 64.53,276.22 63.98,276.54 63.44,276.86 62.91,277.18 62.4,277.5 61.89,277.82 61.39,278.14 60.9,278.46 60.4,278.78 59.9,279.1 59.4,279.41 58.89,279.73 58.38,280.04 57.87,280.35 57.38,280.66 56.89,280.96 56.41,281.27 55.95,281.58 55.51,281.89 55.1,282.2 54.71,282.51 54.34,282.82 53.99,283.13 53.66,283.44 53.34,283.74 53.03,284.05 52.74,284.36 52.45,284.67 52.17,284.99 51.9,285.3 51.62,285.62 51.33,285.95 51.04,286.29 50.76,286.63 50.49,286.96 50.24,287.29 50.03,287.62 49.87,287.93 49.75,288.22 49.7,288.5 49.7,288.75 49.75,288.99 49.84,289.21 49.97,289.42 50.14,289.62 50.34,289.81 50.58,290 50.86,290.2 51.16,290.39 51.5,290.6 51.87,290.81 52.27,291.02 52.72,291.23 53.19,291.44 53.7,291.66 54.24,291.87 54.81,292.08 55.41,292.29 56.04,292.49 56.7,292.7 57.4,292.9 58.15,293.1 58.94,293.3 59.76,293.5 60.61,293.7 61.47,293.9 62.34,294.1 63.21,294.3 64.06,294.5 64.9,294.7 65.73,294.91 66.59,295.11 67.45,295.32 68.31,295.53 69.17,295.74 70.02,295.96 70.85,296.17 71.67,296.38 72.45,296.59 73.2,296.8 73.92,297.01 74.61,297.2 75.27,297.4 75.92,297.59 76.54,297.78 77.16,297.98 77.75,298.19 78.34,298.41 78.92,298.65 79.5,298.9 80.08,299.18 80.65,299.48 81.22,299.8 81.77,300.14 82.32,300.48 82.85,300.82 83.35,301.16 83.83,301.49 84.28,301.81 84.7,302.1 85.08,302.37 85.44,302.64 85.77,302.89 86.07,303.13 86.35,303.37 86.61,303.6 86.85,303.83 87.08,304.05 87.3,304.28 87.5,304.5 87.69,304.72 87.85,304.94 87.98,305.15 88.1,305.35 88.21,305.56 88.31,305.76 88.41,305.96 88.5,306.17 88.6,306.38 88.7,306.6 88.81,306.82 88.92,307.03 89.03,307.25 89.14,307.47 89.25,307.69 89.35,307.91 89.45,308.14 89.54,308.39 89.63,308.64 89.7,308.9 89.77,309.18 89.83,309.47 89.88,309.77 89.93,310.09 89.97,310.41 90,310.73 90.04,311.05 90.06,311.37 90.08,311.69 90.1,312 90.11,312.31 90.12,312.61 90.12,312.92 90.12,313.23 90.11,313.54 90.1,313.84 90.08,314.14 90.06,314.43 90.03,314.72 90,315 89.96,315.27 89.91,315.53 89.84,315.79 89.78,316.04 89.71,316.28 89.64,316.52 89.57,316.77 89.5,317.01 89.45,317.25 89.4,317.5 89.36,317.75 89.33,318 89.29,318.25 89.27,318.5 89.24,318.75 89.22,319 89.21,319.25 89.2,319.5 89.2,319.75 89.2,320 89.21,320.25 89.22,320.49 89.24,320.73 89.27,320.98 89.3,321.22 89.33,321.46 89.37,321.71 89.41,321.97 89.46,322.23 89.5,322.5 89.55,322.78 89.6,323.07 89.66,323.36 89.72,323.66 89.78,323.96 89.85,324.27 89.91,324.58 89.98,324.89 90.04,325.19 90.1,325.5 90.16,325.82 90.23,326.16 90.3,326.52 90.37,326.88 90.44,327.24 90.5,327.58 90.56,327.89 90.62,328.18 90.66,328.42 90.7,328.6 90.7,328.6 90.74,328.42 90.78,328.18 90.84,327.89 90.9,327.58 90.96,327.24 91.03,326.88 91.1,326.52 91.17,326.16 91.24,325.82 91.3,325.5 91.36,325.19 91.42,324.89 91.49,324.58 91.55,324.27 91.62,323.96 91.68,323.66 91.74,323.36 91.8,323.07 91.85,322.78 91.9,322.5 91.94,322.23 91.99,321.97 92.03,321.71 92.07,321.46 92.1,321.22 92.13,320.98 92.16,320.73 92.18,320.49 92.19,320.25 92.2,320 92.2,319.75 92.2,319.5 92.19,319.25 92.18,319 92.16,318.75 92.13,318.5 92.11,318.25 92.07,318 92.04,317.75 92,317.5 91.95,317.25 91.9,317.01 91.83,316.77 91.76,316.52 91.69,316.28 91.62,316.04 91.56,315.79 91.49,315.53 91.44,315.27 91.4,315 91.37,314.72 91.34,314.43 91.32,314.14 91.3,313.84 91.29,313.54 91.28,313.23 91.28,312.92 91.28,312.61 91.29,312.31 91.3,312 91.32,311.69 91.34,311.37 91.36,311.05 91.4,310.73 91.43,310.41 91.47,310.09 91.52,309.77 91.57,309.47 91.63,309.18 91.7,308.9 91.77,308.64 91.86,308.39 91.95,308.14 92.05,307.91 92.15,307.69 92.26,307.47 92.37,307.25 92.48,307.03 92.59,306.82 92.7,306.6 92.8,306.38 92.9,306.17 92.99,305.96 93.09,305.76 93.19,305.56 93.3,305.35 93.42,305.15 93.55,304.94 93.71,304.72 93.9,304.5 94.1,304.28 94.32,304.05 94.55,303.83 94.79,303.6 95.05,303.37 95.33,303.13 95.63,302.89 95.96,302.64 96.32,302.37 96.7,302.1 97.12,301.81 97.57,301.49 98.05,301.16 98.55,300.82 99.08,300.48 99.63,300.14 100.18,299.8 100.75,299.48 101.32,299.18 101.9,298.9 102.48,298.65 103.06,298.41 103.65,298.19 104.24,297.98 104.86,297.78 105.48,297.59 106.13,297.4 106.79,297.2 107.48,297.01 108.2,296.8 108.95,296.59 109.73,296.38 110.55,296.17 111.38,295.96 112.23,295.74 113.09,295.53 113.95,295.32 114.81,295.11 115.67,294.91 116.5,294.7 117.34,294.5 118.19,294.3 119.06,294.1 119.93,293.9 120.79,293.7 121.64,293.5 122.46,293.3 123.25,293.1 124,292.9 124.7,292.7 125.36,292.49 125.99,292.29 126.59,292.08 127.16,291.87 127.7,291.66 128.21,291.44 128.68,291.23 129.13,291.02 129.53,290.81 129.9,290.6 130.24,290.39 130.54,290.2 130.82,290 131.06,289.81 131.26,289.62 131.43,289.42 131.56,289.21 131.65,288.99 131.7,288.75 131.7,288.5 131.65,288.22 131.53,287.93 131.37,287.62 131.16,287.29 130.91,286.96 130.64,286.63 130.36,286.29 130.07,285.95 129.78,285.62 129.5,285.3 129.23,284.99 128.95,284.67 128.66,284.36 128.37,284.05 128.06,283.74 127.74,283.44 127.41,283.13 127.06,282.82 126.69,282.51 126.3,282.2 125.89,281.89 125.45,281.58 124.99,281.27 124.51,280.96 124.03,280.66 123.53,280.35 123.02,280.04 122.51,279.73 122,279.41 121.5,279.1 121,278.78 120.5,278.46 120.01,278.14 119.51,277.82 119,277.5 118.49,277.18 117.96,276.86 117.42,276.54 116.87,276.22 116.3,275.9 115.71,275.59 115.11,275.28 114.49,274.97 113.86,274.66 113.22,274.35 112.58,274.04 111.92,273.73 111.25,273.42 110.58,273.11 109.9,272.8 109.2,272.48 108.48,272.16 107.74,271.84 106.98,271.52 106.23,271.2 105.47,270.88 104.74,270.56 104.02,270.24 103.34,269.92 102.7,269.6 102.09,269.29 101.49,268.97 100.91,268.66 100.35,268.35 99.81,268.04 99.3,267.74 98.81,267.43 98.34,267.12 97.91,266.81 97.5,266.5 97.13,266.19 96.8,265.9 96.49,265.6 96.22,265.31 95.97,265.02 95.74,264.72 95.52,264.41 95.31,264.09 95.1,263.75 94.9,263.4 94.7,263.02 94.52,262.61 94.35,262.17 94.2,261.73 94.05,261.27 93.91,260.82 93.78,260.38 93.65,259.96 93.52,259.56 93.4,259.2 93.27,258.87 93.14,258.57 93.02,258.29 92.89,258.03 92.78,257.78 92.67,257.53 92.57,257.28 92.5,257.04 92.44,256.78 92.4,256.5 92.39,256.21 92.4,255.92 92.43,255.62 92.48,255.32 92.54,255.02 92.61,254.71 92.68,254.41 92.76,254.1 92.83,253.8 92.9,253.5 92.97,253.2 93.05,252.9 93.14,252.6 93.24,252.3 93.33,251.99 93.42,251.69 93.51,251.39 93.59,251.09 93.65,250.8 93.7,250.5 93.74,250.21 93.76,249.92 93.78,249.63 93.8,249.34 93.8,249.06 93.8,248.77 93.78,248.48 93.76,248.19 93.74,247.9 93.7,247.6 93.66,247.3 93.6,246.99 93.54,246.68 93.47,246.37 93.39,246.06 93.3,245.74 93.21,245.43 93.11,245.12 93.01,244.81 92.9,244.5 92.78,244.19 92.65,243.89 92.51,243.58 92.35,243.27 92.2,242.97 92.05,242.67 91.89,242.37 91.75,242.07 91.62,241.78 91.5,241.5 91.39,241.21 91.29,240.91 91.19,240.61 91.1,240.31 91.01,240.01 90.93,239.73 90.86,239.48 90.8,239.25 90.74,239.05 90.7,238.9" fill="#F55F45" stroke="#1a1a1a" stroke-width="0.75" stroke-linejoin="round"/>
<polygon points="173.4,217.1 173.36,217.3 173.32,217.57 173.27,217.88 173.21,218.23 173.14,218.61 173.08,219.01 173.01,219.4 172.94,219.79 172.87,220.16 172.8,220.5 172.73,220.82 172.66,221.13 172.58,221.44 172.5,221.74 172.43,222.04 172.35,222.33 172.28,222.63 172.21,222.92 172.15,223.21 172.1,223.5 172.06,223.79 172.02,224.07 171.98,224.34 171.95,224.62 171.92,224.89 171.9,225.16 171.89,225.44 171.88,225.72 171.89,226 171.9,226.3 171.93,226.6 171.97,226.92 172.03,227.24 172.09,227.56 172.16,227.89 172.24,228.22 172.31,228.54 172.38,228.87 172.44,229.19 172.5,229.5 172.55,229.79 172.6,230.04 172.65,230.27 172.69,230.5 172.73,230.73 172.77,230.99 172.81,231.28 172.85,231.62 172.88,232.02 172.9,232.5 172.92,233.07 172.93,233.73 172.94,234.45 172.95,235.22 172.95,236.03 172.95,236.85 172.95,237.67 172.95,238.49 172.95,239.27 172.95,240 172.95,240.72 172.96,241.45 172.97,242.19 172.97,242.93 172.98,243.65 172.98,244.34 172.97,244.99 172.96,245.6 172.94,246.13 172.9,246.6 172.86,246.98 172.81,247.28 172.76,247.51 172.7,247.68 172.63,247.82 172.55,247.94 172.46,248.06 172.36,248.18 172.24,248.32 172.1,248.5 171.94,248.71 171.75,248.92 171.55,249.13 171.32,249.35 171.09,249.58 170.86,249.8 170.63,250.02 170.4,250.25 170.19,250.47 170,250.7 169.82,250.93 169.64,251.15 169.46,251.38 169.29,251.6 169.13,251.83 168.98,252.06 168.84,252.29 168.71,252.53 168.59,252.76 168.5,253 168.42,253.24 168.36,253.47 168.32,253.71 168.28,253.95 168.26,254.19 168.25,254.43 168.25,254.68 168.26,254.95 168.28,255.22 168.3,255.5 168.34,255.8 168.41,256.11 168.5,256.44 168.6,256.77 168.7,257.11 168.8,257.46 168.89,257.8 168.95,258.14 168.99,258.47 169,258.8 168.97,259.12 168.9,259.45 168.81,259.77 168.7,260.09 168.58,260.41 168.45,260.73 168.32,261.04 168.2,261.33 168.09,261.62 168,261.9 167.94,262.15 167.9,262.38 167.88,262.59 167.87,262.79 167.85,262.98 167.82,263.18 167.77,263.4 167.69,263.63 167.57,263.9 167.4,264.2 167.19,264.54 166.95,264.92 166.69,265.32 166.4,265.74 166.09,266.18 165.74,266.63 165.36,267.08 164.94,267.53 164.49,267.97 164,268.4 163.46,268.82 162.88,269.24 162.26,269.66 161.6,270.08 160.91,270.51 160.2,270.93 159.46,271.35 158.72,271.77 157.96,272.18 157.2,272.6 156.42,273.01 155.62,273.42 154.79,273.83 153.95,274.24 153.09,274.65 152.23,275.06 151.36,275.47 150.5,275.88 149.64,276.29 148.8,276.7 147.95,277.12 147.09,277.53 146.21,277.95 145.33,278.37 144.46,278.79 143.6,279.22 142.77,279.64 141.97,280.06 141.21,280.48 140.5,280.9 139.84,281.32 139.22,281.75 138.64,282.18 138.08,282.6 137.56,283.03 137.05,283.46 136.57,283.88 136.1,284.29 135.65,284.7 135.2,285.1 134.74,285.5 134.25,285.89 133.75,286.28 133.27,286.67 132.81,287.05 132.4,287.42 132.06,287.79 131.8,288.14 131.64,288.48 131.6,288.8 131.67,289.1 131.82,289.38 132.05,289.65 132.35,289.9 132.74,290.14 133.19,290.38 133.72,290.62 134.32,290.87 134.98,291.12 135.7,291.4 136.52,291.69 137.45,291.99 138.48,292.29 139.58,292.6 140.74,292.91 141.93,293.23 143.15,293.55 144.36,293.87 145.55,294.18 146.7,294.5 147.84,294.82 149.02,295.14 150.21,295.46 151.41,295.78 152.61,296.1 153.8,296.42 154.96,296.74 156.09,297.06 157.17,297.38 158.2,297.7 159.18,298.01 160.15,298.33 161.08,298.64 161.98,298.95 162.86,299.26 163.69,299.56 164.49,299.87 165.24,300.18 165.94,300.49 166.6,300.8 167.2,301.11 167.75,301.42 168.25,301.73 168.71,302.04 169.12,302.34 169.51,302.65 169.86,302.96 170.19,303.27 170.5,303.59 170.8,303.9 171.07,304.21 171.3,304.52 171.49,304.82 171.66,305.12 171.8,305.43 171.93,305.74 172.05,306.06 172.16,306.39 172.28,306.74 172.4,307.1 172.53,307.5 172.65,307.94 172.78,308.42 172.89,308.91 173,309.4 173.1,309.87 173.19,310.32 173.27,310.71 173.34,311.05 173.4,311.3 173.4,311.3 173.46,311.05 173.53,310.71 173.61,310.32 173.7,309.87 173.8,309.4 173.91,308.91 174.02,308.42 174.15,307.94 174.27,307.5 174.4,307.1 174.52,306.74 174.64,306.39 174.75,306.06 174.87,305.74 175,305.43 175.14,305.12 175.31,304.82 175.5,304.52 175.73,304.21 176,303.9 176.3,303.59 176.61,303.27 176.94,302.96 177.29,302.65 177.68,302.34 178.09,302.04 178.55,301.73 179.05,301.42 179.6,301.11 180.2,300.8 180.86,300.49 181.56,300.18 182.31,299.87 183.11,299.56 183.94,299.26 184.82,298.95 185.72,298.64 186.65,298.33 187.62,298.01 188.6,297.7 189.63,297.38 190.71,297.06 191.84,296.74 193,296.42 194.19,296.1 195.39,295.78 196.59,295.46 197.78,295.14 198.96,294.82 200.1,294.5 201.25,294.18 202.44,293.87 203.65,293.55 204.87,293.23 206.06,292.91 207.22,292.6 208.32,292.29 209.35,291.99 210.28,291.69 211.1,291.4 211.82,291.12 212.48,290.87 213.08,290.62 213.61,290.38 214.06,290.14 214.45,289.9 214.75,289.65 214.98,289.38 215.13,289.1 215.2,288.8 215.16,288.48 215,288.14 214.74,287.79 214.4,287.42 213.99,287.05 213.53,286.67 213.05,286.28 212.55,285.89 212.06,285.5 211.6,285.1 211.15,284.7 210.7,284.29 210.23,283.88 209.75,283.46 209.24,283.03 208.72,282.6 208.16,282.18 207.58,281.75 206.96,281.32 206.3,280.9 205.59,280.48 204.83,280.06 204.03,279.64 203.2,279.22 202.34,278.79 201.47,278.37 200.59,277.95 199.71,277.53 198.85,277.12 198,276.7 197.16,276.29 196.3,275.88 195.44,275.47 194.57,275.06 193.71,274.65 192.85,274.24 192.01,273.83 191.18,273.42 190.38,273.01 189.6,272.6 188.84,272.18 188.08,271.77 187.34,271.35 186.6,270.93 185.89,270.51 185.2,270.08 184.54,269.66 183.92,269.24 183.34,268.82 182.8,268.4 182.31,267.97 181.86,267.53 181.44,267.08 181.06,266.63 180.71,266.18 180.4,265.74 180.11,265.32 179.85,264.92 179.61,264.54 179.4,264.2 179.23,263.9 179.11,263.63 179.03,263.4 178.98,263.18 178.95,262.98 178.93,262.79 178.92,262.59 178.9,262.38 178.86,262.15 178.8,261.9 178.71,261.62 178.6,261.33 178.48,261.04 178.35,260.73 178.22,260.41 178.1,260.09 177.99,259.77 177.9,259.45 177.83,259.12 177.8,258.8 177.81,258.47 177.85,258.14 177.91,257.8 178,257.46 178.1,257.11 178.2,256.77 178.3,256.44 178.39,256.11 178.46,255.8 178.5,255.5 178.52,255.22 178.54,254.95 178.55,254.68 178.55,254.43 178.54,254.19 178.52,253.95 178.48,253.71 178.44,253.47 178.38,253.24 178.3,253 178.21,252.76 178.09,252.53 177.96,252.29 177.82,252.06 177.67,251.83 177.51,251.6 177.34,251.38 177.16,251.15 176.98,250.93 176.8,250.7 176.61,250.47 176.4,250.25 176.17,250.02 175.94,249.8 175.71,249.58 175.48,249.35 175.25,249.13 175.05,248.92 174.86,248.71 174.7,248.5 174.56,248.32 174.44,248.18 174.34,248.06 174.25,247.94 174.17,247.82 174.1,247.68 174.04,247.51 173.99,247.28 173.94,246.98 173.9,246.6 173.86,246.13 173.84,245.6 173.83,244.99 173.82,244.34 173.82,243.65 173.83,242.93 173.83,242.19 173.84,241.45 173.85,240.72 173.85,240 173.85,239.27 173.85,238.49 173.85,237.67 173.85,236.85 173.85,236.03 173.85,235.22 173.86,234.45 173.87,233.73 173.88,233.07 173.9,232.5 173.92,232.02 173.95,231.62 173.99,231.28 174.03,230.99 174.07,230.73 174.11,230.5 174.15,230.27 174.2,230.04 174.25,229.79 174.3,229.5 174.36,229.19 174.42,228.87 174.49,228.54 174.56,228.22 174.64,227.89 174.71,227.56 174.77,227.24 174.83,226.92 174.87,226.6 174.9,226.3 174.91,226 174.92,225.72 174.91,225.44 174.9,225.16 174.88,224.89 174.85,224.62 174.82,224.34 174.78,224.07 174.74,223.79 174.7,223.5 174.65,223.21 174.59,222.92 174.52,222.63 174.45,222.33 174.38,222.04 174.3,221.74 174.22,221.44 174.14,221.13 174.07,220.82 174,220.5 173.93,220.16 173.86,219.79 173.79,219.4 173.72,219.01 173.66,218.61 173.59,218.23 173.53,217.88 173.48,217.57 173.44,217.3 173.4,217.1" fill="#00F2F2" stroke="#1a1a1a" stroke-width="0.75" stroke-linejoin="round"/>
<line x1="90.7" y1="244" x2="90.7" y2="312" stroke="#111" stroke-width="0.6"/>
<line x1="173.4" y1="222.5" x2="173.4" y2="302.5" stroke="#111" stroke-width="0.6"/>
<rect x="82.4" y="278.8" width="16.6" height="11.6" fill="#fff" stroke="#111" stroke-width="0.6"/>
<line x1="82.4" y1="285.6" x2="99" y2="285.6" stroke="#111" stroke-width="1"/>
<rect x="165.2" y="278.5" width="16.6" height="12.2" fill="#fff" stroke="#111" stroke-width="0.6"/>
<line x1="165.2" y1="284.9" x2="181.8" y2="284.9" stroke="#111" stroke-width="1"/>
<circle cx="90.7" cy="248.4" r="0.85" fill="#000"/>
<circle cx="90.7" cy="252" r="0.85" fill="#000"/>
<circle cx="90.7" cy="259.6" r="0.85" fill="#000"/>
<circle cx="90.7" cy="319.9" r="0.85" fill="#000"/>
<circle cx="173.4" cy="226.3" r="0.85" fill="#000"/>
<circle cx="173.4" cy="254.3" r="0.85" fill="#000"/>
<circle cx="173.4" cy="257.7" r="0.85" fill="#000"/>
<text x="247.8" y="186.5" font-size="16" class="r" font-weight="bold" textLength="10.6" lengthAdjust="spacingAndGlyphs">D</text>
<text x="348.5" y="198" font-size="3.6" fill="#333" stroke="#333" stroke-width="0.12" textLength="5.3" lengthAdjust="spacingAndGlyphs">Risk</text>
<rect x="356" y="195" width="5.1" height="3.3" fill="#FFB3B3"/>
<line x1="356" y1="196.65" x2="361.1" y2="196.65" stroke="#FF0000" stroke-width="0.8"/>
<text x="363" y="198" font-size="3.6" fill="#333" stroke="#333" stroke-width="0.12" textLength="11.5" lengthAdjust="spacingAndGlyphs">High risk</text>
<rect x="376.4" y="195" width="5.1" height="3.3" fill="#B3B3FF"/>
<line x1="376.4" y1="196.65" x2="381.5" y2="196.65" stroke="#0000FF" stroke-width="0.8"/>
<text x="383.3" y="198" font-size="3.6" fill="#333" stroke="#333" stroke-width="0.12" textLength="10.9" lengthAdjust="spacingAndGlyphs">Low risk</text>
<line x1="274.1" y1="205" x2="274.1" y2="294.2" stroke="#333" stroke-width="0.75"/>
<line x1="274.1" y1="294.2" x2="468.8" y2="294.2" stroke="#333" stroke-width="0.75"/>
<line x1="272.9" y1="209.1" x2="274.1" y2="209.1" stroke="#444" stroke-width="0.45"/>
<text x="271.8" y="210.29" font-size="3.3" text-anchor="end" fill="#333" stroke="#333" stroke-width="0.12">1.00</text>
<line x1="272.9" y1="229.38" x2="274.1" y2="229.38" stroke="#444" stroke-width="0.45"/>
<text x="271.8" y="230.56" font-size="3.3" text-anchor="end" fill="#333" stroke="#333" stroke-width="0.12">0.75</text>
<line x1="272.9" y1="249.65" x2="274.1" y2="249.65" stroke="#444" stroke-width="0.45"/>
<text x="271.8" y="250.84" font-size="3.3" text-anchor="end" fill="#333" stroke="#333" stroke-width="0.12">0.50</text>
<line x1="272.9" y1="269.93" x2="274.1" y2="269.93" stroke="#444" stroke-width="0.45"/>
<text x="271.8" y="271.11" font-size="3.3" text-anchor="end" fill="#333" stroke="#333" stroke-width="0.12">0.25</text>
<line x1="272.9" y1="290.2" x2="274.1" y2="290.2" stroke="#444" stroke-width="0.45"/>
<text x="271.8" y="291.39" font-size="3.3" text-anchor="end" fill="#333" stroke="#333" stroke-width="0.12">0.00</text>
<text x="254.9" y="250.91" font-size="4.2" text-anchor="middle" fill="#333" stroke="#333" stroke-width="0.12" textLength="36" lengthAdjust="spacingAndGlyphs" transform="rotate(-90 254.9 249.4)">Survival probability</text>
<line x1="282.6" y1="294.2" x2="282.6" y2="295.3" stroke="#444" stroke-width="0.45"/>
<text x="282.6" y="298.62" font-size="3.4" text-anchor="middle" fill="#333" stroke="#333" stroke-width="0.12">0</text>
<line x1="289.68" y1="294.2" x2="289.68" y2="295.3" stroke="#444" stroke-width="0.45"/>
<text x="289.68" y="298.62" font-size="3.4" text-anchor="middle" fill="#333" stroke="#333" stroke-width="0.12">1</text>
<line x1="296.76" y1="294.2" x2="296.76" y2="295.3" stroke="#444" stroke-width="0.45"/>
<text x="296.76" y="298.62" font-size="3.4" text-anchor="middle" fill="#333" stroke="#333" stroke-width="0.12">2</text>
<line x1="303.84" y1="294.2" x2="303.84" y2="295.3" stroke="#444" stroke-width="0.45"/>
<text x="303.84" y="298.62" font-size="3.4" text-anchor="middle" fill="#333" stroke="#333" stroke-width="0.12">3</text>
<line x1="310.92" y1="294.2" x2="310.92" y2="295.3" stroke="#444" stroke-width="0.45"/>
<text x="310.92" y="298.62" font-size="3.4" text-anchor="middle" fill="#333" stroke="#333" stroke-width="0.12">4</text>
<line x1="318" y1="294.2" x2="318" y2="295.3" stroke="#444" stroke-width="0.45"/>
<text x="318" y="298.62" font-size="3.4" text-anchor="middle" fill="#333" stroke="#333" stroke-width="0.12">5</text>
<line x1="325.08" y1="294.2" x2="325.08" y2="295.3" stroke="#444" stroke-width="0.45"/>
<text x="325.08" y="298.62" font-size="3.4" text-anchor="middle" fill="#333" stroke="#333" stroke-width="0.12">6</text>
<line x1="332.16" y1="294.2" x2="332.16" y2="295.3" stroke="#444" stroke-width="0.45"/>
<text x="332.16" y="298.62" font-size="3.4" text-anchor="middle" fill="#333" stroke="#333" stroke-width="0.12">7</text>
<line x1="339.24" y1="294.2" x2="339.24" y2="295.3" stroke="#444" stroke-width="0.45"/>
<text x="339.24" y="298.62" font-size="3.4" text-anchor="middle" fill="#333" stroke="#333" stroke-width="0.12">8</text>
<line x1="346.32" y1="294.2" x2="346.32" y2="295.3" stroke="#444" stroke-width="0.45"/>
<text x="346.32" y="298.62" font-size="3.4" text-anchor="middle" fill="#333" stroke="#333" stroke-width="0.12">9</text>
<line x1="353.4" y1="294.2" x2="353.4" y2="295.3" stroke="#444" stroke-width="0.45"/>
<text x="353.4" y="298.62" font-size="3.4" text-anchor="middle" fill="#333" stroke="#333" stroke-width="0.12">10</text>
<line x1="360.48" y1="294.2" x2="360.48" y2="295.3" stroke="#444" stroke-width="0.45"/>
<text x="360.48" y="298.62" font-size="3.4" text-anchor="middle" fill="#333" stroke="#333" stroke-width="0.12">11</text>
<line x1="367.56" y1="294.2" x2="367.56" y2="295.3" stroke="#444" stroke-width="0.45"/>
<text x="367.56" y="298.62" font-size="3.4" text-anchor="middle" fill="#333" stroke="#333" stroke-width="0.12">12</text>
<line x1="374.64" y1="294.2" x2="374.64" y2="295.3" stroke="#444" stroke-width="0.45"/>
<text x="374.64" y="298.62" font-size="3.4" text-anchor="middle" fill="#333" stroke="#333" stroke-width="0.12">13</text>
<line x1="381.72" y1="294.2" x2="381.72" y2="295.3" stroke="#444" stroke-width="0.45"/>
<text x="381.72" y="298.62" font-size="3.4" text-anchor="middle" fill="#333" stroke="#333" stroke-width="0.12">14</text>
<line x1="388.8" y1="294.2" x2="388.8" y2="295.3" stroke="#444" stroke-width="0.45"/>
<text x="388.8" y="298.62" font-size="3.4" text-anchor="middle" fill="#333" stroke="#333" stroke-width="0.12">15</text>
<line x1="395.88" y1="294.2" x2="395.88" y2="295.3" stroke="#444" stroke-width="0.45"/>
<text x="395.88" y="298.62" font-size="3.4" text-anchor="middle" fill="#333" stroke="#333" stroke-width="0.12">16</text>
<line x1="402.96" y1="294.2" x2="402.96" y2="295.3" stroke="#444" stroke-width="0.45"/>
<text x="402.96" y="298.62" font-size="3.4" text-anchor="middle" fill="#333" stroke="#333" stroke-width="0.12">17</text>
<line x1="410.04" y1="294.2" x2="410.04" y2="295.3" stroke="#444" stroke-width="0.45"/>
<text x="410.04" y="298.62" font-size="3.4" text-anchor="middle" fill="#333" stroke="#333" stroke-width="0.12">18</text>
<line x1="417.12" y1="294.2" x2="417.12" y2="295.3" stroke="#444" stroke-width="0.45"/>
<text x="417.12" y="298.62" font-size="3.4" text-anchor="middle" fill="#333" stroke="#333" stroke-width="0.12">19</text>
<line x1="424.2" y1="294.2" x2="424.2" y2="295.3" stroke="#444" stroke-width="0.45"/>
<text x="424.2" y="298.62" font-size="3.4" text-anchor="middle" fill="#333" stroke="#333" stroke-width="0.12">20</text>
<line x1="431.28" y1="294.2" x2="431.28" y2="295.3" stroke="#444" stroke-width="0.45"/>
<text x="431.28" y="298.62" font-size="3.4" text-anchor="middle" fill="#333" stroke="#333" stroke-width="0.12">21</text>
<line x1="438.36" y1="294.2" x2="438.36" y2="295.3" stroke="#444" stroke-width="0.45"/>
<text x="438.36" y="298.62" font-size="3.4" text-anchor="middle" fill="#333" stroke="#333" stroke-width="0.12">22</text>
<line x1="445.44" y1="294.2" x2="445.44" y2="295.3" stroke="#444" stroke-width="0.45"/>
<text x="445.44" y="298.62" font-size="3.4" text-anchor="middle" fill="#333" stroke="#333" stroke-width="0.12">23</text>
<line x1="452.52" y1="294.2" x2="452.52" y2="295.3" stroke="#444" stroke-width="0.45"/>
<text x="452.52" y="298.62" font-size="3.4" text-anchor="middle" fill="#333" stroke="#333" stroke-width="0.12">24</text>
<line x1="459.6" y1="294.2" x2="459.6" y2="295.3" stroke="#444" stroke-width="0.45"/>
<text x="459.6" y="298.62" font-size="3.4" text-anchor="middle" fill="#333" stroke="#333" stroke-width="0.12">25</text>
<text x="371.8" y="302.9" font-size="3.6" text-anchor="middle" fill="#333" stroke="#333" stroke-width="0.12" textLength="23" lengthAdjust="spacingAndGlyphs">Time(years)</text>
<text x="286.5" y="276.11" font-size="4.2" fill="#333" stroke="#333" stroke-width="0.12" textLength="15.3" lengthAdjust="spacingAndGlyphs">p=0.197</text>
<path d="M282.6,209.1 H284.15 V209.75 H285.44 V210.3 H287.46 V211.15 H288.65 V211.65 H290.5 V212.88 H292.1 V214.04 H293.27 V214.89 H295.08 V216.19 H296.21 V217.36 H297.92 V219.43 H299.1 V220.86 H300.31 V222.32 H302 V224.1 H304.27 V226.37 H305.53 V227.63 H306.93 V228.62 H308.91 V229.81 H311.36 V231.27 H313.27 V232.42 H314.92 V233.41 H317.41 V234.8 H318.55 V235.38 H320.87 V236.53 H322.37 V237.28 H323.65 V237.93 H324.9 V238.55 H326.43 V239.31 H328.68 V240.19 H330.02 V240.68 H331.94 V241.38 H333.94 V242.11 H335.56 V242.78 H337.43 V243.71 H338.6 V244.3 H339.76 V244.88 H341.14 V245.57 H343.2 V246.6 H344.89 V247.45 H346.43 V248.21 H348.35 V249.17 H350.08 V250.04 H351.59 V250.8 H353.82 V251.91 H355.9 V252.62 H357.34 V252.8 H359.24 V253.04 H361.08 V253.28 H363.42 V253.58 H365.55 V253.85 H367.04 V254.05 H369.54 V254.37 H370.79 V254.53 H372.47 V254.74 H374.64 V255.02 H375.94 V255.19 H377.72 V255.42 H378.86 V255.56 H380.9 V255.82 H383.08 V256.1 H384.99 V256.35 H387.33 V256.65 H388.86 V256.84 H390.94 V257.09 H392.88 V257.32 H394.79 V257.55 H396.53 V257.76 H398.82 V258.04 H401.26 V258.33 H403.02 V258.54 H405.06 V258.78 H406.22 V258.86 H408.31 V259 H410.33 V259.13 H412.84 V259.28 H415.1 V259.43 H416.59 V259.52 H418.22 V259.63 H420.27 V259.76 H421.38 V259.83 H423.12 V259.94 H424.45 V260.02 H425.7 V260.1 H426.86 V260.17 H429.05 V260.31 H430.31 V260.39 H431.75 V260.48 H433.39 V259.6 H435.73 V259.6 H436.92 V259.6 H438.65 V259.6 H440.52 V259.6 H442.87 V259.6 H445.13 V259.6 H447.46 V259.6 H448.94 V259.6 H450.62 V259.6 H452.1 V259.6 L452.1,272.2 L452.1,272.2 L451.11,272.2 L451.11,272.2 L449.3,272.2 L449.3,272.2 L447.06,272.2 L447.06,272.2 L445.46,272.2 L445.46,272.2 L443.63,272.2 L443.63,272.2 L442.39,272.2 L442.39,272.2 L441.19,272.2 L441.19,272.2 L439.97,272.2 L439.97,272.2 L438.48,272.2 L438.48,272.2 L436.55,272.2 L436.55,272.2 L434.87,272.2 L434.87,272.2 L433.15,272.2 L433.15,270.77 L431.48,270.77 L431.48,270.68 L430.06,270.68 L430.06,270.58 L428.36,270.58 L428.36,270.5 L427.03,270.5 L427.03,270.41 L425.46,270.41 L425.46,270.28 L423.28,270.28 L423.28,270.21 L422.18,270.21 L422.18,270.12 L420.67,270.12 L420.67,269.99 L418.48,269.99 L418.48,269.91 L417.11,269.91 L417.11,269.76 L414.63,269.76 L414.63,269.64 L412.59,269.64 L412.59,269.56 L411.27,269.56 L411.27,269.46 L409.62,269.46 L409.62,269.38 L408.29,269.38 L408.29,269.24 L405.93,269.24 L405.93,269.04 L403.65,269.04 L403.65,268.88 L402.02,268.88 L402.02,268.7 L400.33,268.7 L400.33,268.56 L398.87,268.56 L398.87,268.4 L397.3,268.4 L397.3,268.28 L396.2,268.28 L396.2,268.14 L394.77,268.14 L394.77,268 L393.37,268 L393.37,267.78 L391.28,267.78 L391.28,267.6 L389.47,267.6 L389.47,267.29 L387.09,267.29 L387.09,267.11 L385.91,267.11 L385.91,266.84 L384.09,266.84 L384.09,266.57 L382.25,266.57 L382.25,266.38 L380.95,266.38 L380.95,266.17 L379.59,266.17 L379.59,265.91 L377.78,265.91 L377.78,265.56 L375.49,265.56 L375.49,265.2 L373.04,265.2 L373.04,264.89 L370.95,264.89 L370.95,264.58 L368.88,264.58 L368.88,264.39 L367.66,264.39 L367.66,264.07 L365.48,264.07 L365.48,263.88 L364.2,263.88 L364.2,263.53 L361.86,263.53 L361.86,263.29 L360.26,263.29 L360.26,263.06 L358.77,263.06 L358.77,262.71 L356.42,262.71 L356.42,262.21 L354.29,262.21 L354.29,261.42 L352.38,261.42 L352.38,260.41 L349.94,260.41 L349.94,259.85 L348.58,259.85 L348.58,259.11 L346.8,259.11 L346.8,258.1 L344.35,258.1 L344.35,257.61 L343.18,257.61 L343.18,257.07 L341.9,257.07 L341.9,256.27 L339.98,256.27 L339.98,255.28 L337.6,255.28 L337.6,254.44 L335.58,254.44 L335.58,253.27 L333.79,253.27 L333.79,251.67 L331.71,251.67 L331.71,250.47 L330.15,250.47 L330.15,248.91 L328.11,248.91 L328.11,247.77 L326.49,247.77 L326.49,246.98 L324.52,246.98 L324.52,246.51 L323.35,246.51 L323.35,245.49 L320.84,245.49 L320.84,244.91 L319.39,244.91 L319.39,244.4 L318.14,244.4 L318.14,243.75 L316.52,243.75 L316.52,241.89 L314.14,241.89 L314.14,240.56 L312.47,240.56 L312.47,239.39 L311.01,239.39 L311.01,238.5 L309.9,238.5 L309.9,237.36 L308.48,237.36 L308.48,236.4 L307.27,236.4 L307.27,234.59 L305,234.59 L305,233.52 L303.64,233.52 L303.64,232.1 L301.85,232.1 L301.85,230.13 L300.11,230.13 L300.11,226.95 L298.37,226.95 L298.37,223.29 L296.37,223.29 L296.37,221.21 L294.99,221.21 L294.99,218.81 L292.47,218.81 L292.47,217.44 L291.03,217.44 L291.03,216.29 L289.83,216.29 L289.83,214.23 L287.73,214.23 L287.73,212.97 L286.47,212.97 L286.47,210.51 L284.01,210.51 L284.01,209.1 L282.6,209.1 Z" fill="#FF0000" fill-opacity="0.3"/>
<path d="M282.6,209.1 H284.58 V209.47 H286.73 V209.88 H288.95 V210.3 H291.39 V211.08 H293.53 V211.98 H295.94 V213.09 H297.06 V213.82 H298.81 V214.97 H301.25 V216.56 H303.27 V217.88 H305.64 V219.43 H306.89 V220.14 H308.64 V221.11 H310.08 V221.91 H311.94 V222.94 H313.85 V223.99 H314.95 V224.6 H316.34 V225.37 H317.82 V226.04 H320.22 V227.13 H322.4 V228.11 H323.71 V228.7 H325.94 V229.71 H327.22 V230.23 H329.19 V230.86 H330.45 V231.26 H331.53 V231.6 H333.87 V232.34 H335.25 V232.8 H336.64 V233.38 H339.14 V234.42 H341.47 V235.4 H342.97 V236.02 H345.43 V237.05 H347.29 V237.84 H349.35 V238.81 H350.72 V239.47 H353.16 V240.62 H355.23 V241.59 H357.7 V242.52 H360.07 V243.41 H361.58 V243.98 H363.18 V244.59 H364.5 V245.08 H365.79 V245.57 H366.96 V246.01 H368.48 V246.58 H370.42 V247.32 H371.51 V247.73 H373.56 V248.22 H375.13 V248.58 H376.66 V248.92 H378.92 V249.43 H380.69 V249.83 H382.22 V250.18 H384 V250.58 H386.09 V251.06 H387.25 V251.32 H389.74 V251.84 H390.85 V252.05 H393.01 V252.46 H395.31 V252.9 H396.41 V253.12 H398.63 V253.54 H400.23 V253.85 H402.15 V254.22 H403.24 V254.42 H404.39 V254.64 H405.73 V254.83 H408.18 V254.99 H409.55 V255.08 H411.72 V255.21 H414.13 V255.37 H416.57 V255.52 H418.15 V255.62 H419.74 V255.72 H421.57 V255.84 H423.77 V255.98 H425.01 V256.06 H427.16 V256.19 H429.39 V256.33 H431.71 V256.48 H432.84 V259.6 H435.28 V259.6 H436.49 V259.6 H438.07 V259.6 H440.03 V259.6 H442.43 V259.6 H444 V259.6 H446.41 V259.6 H448.27 V259.6 H449.8 V259.6 H451.34 V259.6 H452.67 V259.6 H453.87 V259.6 H455.16 V259.6 H456.4 V259.6 L456.4,272.2 L456.4,272.2 L455.65,272.2 L455.65,272.2 L453.44,272.2 L453.44,272.2 L451.66,272.2 L451.66,272.2 L450.2,272.2 L450.2,272.2 L448.04,272.2 L448.04,272.2 L446.84,272.2 L446.84,272.2 L445.17,272.2 L445.17,272.2 L443.07,272.2 L443.07,272.2 L441.32,272.2 L441.32,272.2 L439.49,272.2 L439.49,272.2 L437.27,272.2 L437.27,272.2 L434.99,272.2 L434.99,272.2 L433.26,272.2 L433.26,267.62 L430.9,267.62 L430.9,267.48 L428.86,267.48 L428.86,267.31 L426.49,267.31 L426.49,267.13 L424,267.13 L424,267.03 L422.57,267.03 L422.57,266.85 L420.08,266.85 L420.08,266.74 L418.43,266.74 L418.43,266.58 L416.27,266.58 L416.27,266.47 L414.58,266.47 L414.58,266.38 L413.42,266.38 L413.42,266.2 L410.9,266.2 L410.9,266.11 L409.64,266.11 L409.64,266 L408,266 L408,265.88 L406.38,265.88 L406.38,265.75 L404.86,265.75 L404.86,265.44 L402.88,265.44 L402.88,265.07 L400.5,265.07 L400.5,264.83 L398.94,264.83 L398.94,264.65 L397.84,264.65 L397.84,264.31 L395.64,264.31 L395.64,264.14 L394.54,264.14 L394.54,263.82 L392.45,263.82 L392.45,263.45 L390.13,263.45 L390.13,263.24 L388.74,263.24 L388.74,262.99 L387.47,262.99 L387.47,262.63 L385.69,262.63 L385.69,262.36 L384.33,262.36 L384.33,262.05 L382.8,262.05 L382.8,261.63 L380.76,261.63 L380.76,261.38 L379.51,261.38 L379.51,261.01 L377.68,261.01 L377.68,260.53 L375.33,260.53 L375.33,260.29 L374.12,260.29 L374.12,259.9 L372.19,259.9 L372.19,259.48 L370.68,259.48 L370.68,258.87 L368.73,258.87 L368.73,258.38 L367.13,258.38 L367.13,258.03 L366.01,258.03 L366.01,257.25 L363.52,257.25 L363.52,256.56 L361.28,256.56 L361.28,255.91 L359.2,255.91 L359.2,255.28 L357.19,255.28 L357.19,254.71 L355.37,254.71 L355.37,253.49 L352.98,253.49 L352.98,252.15 L350.55,252.15 L350.55,251.28 L348.96,251.28 L348.96,250.17 L346.93,250.17 L346.93,249.54 L345.56,249.54 L345.56,248.66 L343.63,248.66 L343.63,247.53 L341.18,247.53 L341.18,246.85 L339.69,246.85 L339.69,245.93 L337.69,245.93 L337.69,245.31 L336.33,245.31 L336.33,244.75 L335.11,244.75 L335.11,243.9 L333.39,243.9 L333.39,242.78 L331.15,242.78 L331.15,241.66 L328.92,241.66 L328.92,241.05 L327.71,241.05 L327.71,240.2 L326.14,240.2 L326.14,238.81 L323.85,238.81 L323.85,237.56 L321.78,237.56 L321.78,236.2 L319.54,236.2 L319.54,235.32 L318.08,235.32 L318.08,234.02 L315.84,234.02 L315.84,233.07 L313.96,233.07 L313.96,232.38 L312.61,232.38 L312.61,231.34 L310.54,231.34 L310.54,230.41 L308.69,230.41 L308.69,229.56 L307.01,229.56 L307.01,228.13 L304.88,228.13 L304.88,226.24 L302.65,226.24 L302.65,224.99 L301.17,224.99 L301.17,223.13 L298.98,223.13 L298.98,221.47 L297.37,221.47 L297.37,219.12 L295.19,219.12 L295.19,217.22 L293.44,217.22 L293.44,215.02 L291.4,215.02 L291.4,213.85 L290.32,213.85 L290.32,212.82 L288.86,212.82 L288.86,211.77 L287.09,211.77 L287.09,210.42 L284.82,210.42 L284.82,209.1 L282.6,209.1 Z" fill="#0000FF" fill-opacity="0.3"/>
<path d="M282.6,209.1 H284.06 V209.22 H285.4 V209.74 H286.47 V210.91 H288.41 V213.03 H289.32 V213.98 H290.82 V215.05 H292.8 V216.46 H293.8 V217.17 H295.36 V219.16 H297 V221.83 H297.95 V223.39 H299.3 V225.66 H301.05 V228.47 H302.49 V230.43 H304.26 V232.54 H305.35 V233.34 H306.54 V234.22 H307.57 V234.98 H309.08 V236.12 H311.08 V237.65 H312.69 V238.62 H314.52 V239.05 H315.88 V239.38 H317.68 V239.89 H318.7 V240.21 H319.95 V240.59 H321.66 V241.13 H323.43 V242.19 H324.84 V243.03 H325.84 V243.63 H327.06 V244.43 H328.21 V245.44 H329.45 V246.53 H331.32 V248.03 H332.46 V248.48 H334.42 V249.27 H336.38 V250.57 H337.35 V251.31 H338.7 V252.36 H340.19 V253.52 H341.12 V253.7 H342.53 V253.87 H344.52 V254.1 H345.55 V254.23 H347.17 V254.44 H348.21 V254.71 H349.81 V255.12 H351.78 V255.63 H352.92 V255.93 H353.83 V256.22 H354.83 V256.73 H356.38 V257.52 H357.3 V257.99 H358.31 V258.5 H359.8 V258.59 H361.81 V258.71 H363.21 V258.79 H364.59 V258.88 H366.25 V258.97 H367.27 V259.04 H368.86 V259.13 H369.97 V259.2 H371.6 V259.29 H373.65 V259.49 H374.62 V259.58 H376.18 V259.73 H377.81 V259.88 H378.89 V259.98 H380.11 V260.1 H382.2 V260.31 H384.3 V260.53 H385.35 V260.63 H387.09 V260.81 H389.13 V261.02 H390.32 V261.14 H391.95 V261.31 H392.9 V261.4 H394.24 V261.54 H395.95 V261.71 H397.56 V261.98 H399.39 V262.42 H400.39 V262.66 H401.71 V262.97 H403.65 V263.43 H405.25 V263.81 H406.69 V264.05 H408.07 V264.28 H410.16 V264.63 H411.75 V264.89 H412.67 V265.04 H414.53 V265.22 H415.82 V265.25 H417.24 V265.28 H418.4 V265.31 H419.83 V265.34 H421.12 V265.37 H422.13 V265.39 H423.78 V265.42 H424.81 V265.45 H426.65 V265.49 H427.58 V265.51 H429.41 V265.55 H431.28 V265.59 H432.78 V266.8 H434.53 V266.8 H435.73 V266.8 H437.51 V266.8 H438.92 V266.8 H440.1 V266.8 H442.16 V266.8 H443.54 V266.8 H444.89 V266.8 H446.82 V266.8 H448.16 V266.8 H449.86 V266.8 H450.97 V266.8 H452 V266.8" fill="none" stroke="#FF0000" stroke-width="1.1"/>
<path d="M282.6,209.1 H284.19 V209.23 H285.6 V209.59 H287.19 V210.35 H288.34 V210.91 H290.22 V211.81 H292.11 V213.13 H293.79 V214.31 H294.88 V215.07 H296.41 V216.7 H297.7 V218.41 H298.9 V219.82 H300.94 V221.3 H303.04 V222.82 H303.99 V223.52 H305.93 V224.91 H307.55 V225.86 H308.91 V226.66 H310.15 V227.38 H311.86 V228.4 H313.31 V229.3 H315.03 V230.36 H316.72 V231.36 H317.78 V231.89 H319.6 V232.8 H321.68 V233.85 H323.75 V235.08 H325.38 V236.05 H326.33 V236.62 H327.24 V237.1 H328.3 V237.58 H330.33 V238.49 H331.59 V239.06 H332.93 V239.67 H334.91 V240.56 H336.19 V240.88 H337.75 V241.24 H339.17 V241.57 H340.15 V241.8 H341.75 V242.3 H343.66 V243.06 H344.75 V243.5 H345.92 V243.97 H347.31 V244.55 H348.26 V245 H349.75 V245.71 H351.64 V246.6 H353.33 V247.4 H354.87 V248.14 H356.79 V248.92 H357.87 V249.36 H359.45 V249.99 H360.8 V250.54 H362.42 V251.18 H363.46 V251.58 H365.29 V252.29 H366.3 V252.69 H367.4 V253.11 H369.27 V253.67 H371.31 V254.06 H372.73 V254.34 H374.13 V254.61 H375.32 V255.07 H376.55 V256.56 H378.19 V257.1 H379.31 V257.1 H380.35 V257.1 H381.8 V257.1 H382.89 V257.1 H384.57 V257.1 H386.46 V257.1 H388.29 V257.1 H389.77 V257.67 H391.08 V258.26 H392.51 V258.89 H393.41 V259.3 H395.17 V260.09 H396.47 V260.21 H397.75 V260.33 H398.74 V260.42 H400.18 V260.55 H401.78 V260.69 H403.15 V260.82 H405.09 V260.99 H406.8 V261.15 H407.99 V261.27 H409.52 V261.41 H411.51 V261.6 H413.04 V261.75 H414.66 V261.81 H415.64 V261.82 H417.12 V261.84 H418.58 V261.85 H419.96 V261.87 H421.36 V261.88 H422.97 V261.9 H424.51 V261.92 H426 V261.93 H427.1 V261.95 H428.53 V261.96 H430.59 V261.98 H431.99 V262 H432.93 V266.6 H433.83 V266.6 H435.38 V266.6 H436.34 V266.6 H437.35 V266.6 H438.38 V266.6 H439.82 V266.6 H441.92 V266.6 H443.4 V266.6 H444.85 V266.6 H446.27 V266.6 H447.77 V266.6 H449.21 V266.6 H450.98 V266.6 H452.96 V266.6 H454.7 V266.6 H456.1 V266.6 H456.4 V266.6" fill="none" stroke="#0000FF" stroke-width="1.1"/>
<path d="M433,266.7 H452" fill="none" stroke="#FF0000" stroke-width="1.1" stroke-dasharray="1.6 1.6"/>
<line x1="273.5" y1="314.2" x2="273.5" y2="332.2" stroke="#333" stroke-width="0.75"/>
<line x1="273.5" y1="332.2" x2="469.7" y2="332.2" stroke="#333" stroke-width="0.75"/>
<line x1="272.5" y1="319.5" x2="273.5" y2="319.5" stroke="#444" stroke-width="0.45"/>
<line x1="272.5" y1="327.2" x2="273.5" y2="327.2" stroke="#444" stroke-width="0.45"/>
<text x="271.8" y="320.49" font-size="3.3" text-anchor="end" fill="#FF0000" stroke="#FF0000" stroke-width="0.12" textLength="13.8" lengthAdjust="spacingAndGlyphs">High risk</text>
<text x="271.8" y="328.29" font-size="3.3" text-anchor="end" fill="#0000FF" stroke="#0000FF" stroke-width="0.12" textLength="12.6" lengthAdjust="spacingAndGlyphs">Low risk</text>
<text x="254.3" y="324.71" font-size="4.2" text-anchor="middle" fill="#333" stroke="#333" stroke-width="0.12" transform="rotate(-90 254.3 323.2)">Risk</text>
<text x="282.6" y="320.8" font-size="3.9" text-anchor="middle" fill="#222" stroke="#222" stroke-width="0.12">174</text>
<text x="282.6" y="328.8" font-size="3.9" text-anchor="middle" fill="#222" stroke="#222" stroke-width="0.12">174</text>
<line x1="282.6" y1="332.2" x2="282.6" y2="333.2" stroke="#444" stroke-width="0.45"/>
<text x="282.6" y="336.62" font-size="3.4" text-anchor="middle" fill="#333" stroke="#333" stroke-width="0.12">0</text>
<text x="289.68" y="320.8" font-size="3.9" text-anchor="middle" fill="#222" stroke="#222" stroke-width="0.12">160</text>
<text x="289.68" y="328.8" font-size="3.9" text-anchor="middle" fill="#222" stroke="#222" stroke-width="0.12">168</text>
<line x1="289.68" y1="332.2" x2="289.68" y2="333.2" stroke="#444" stroke-width="0.45"/>
<text x="289.68" y="336.62" font-size="3.4" text-anchor="middle" fill="#333" stroke="#333" stroke-width="0.12">1</text>
<text x="296.76" y="320.8" font-size="3.9" text-anchor="middle" fill="#222" stroke="#222" stroke-width="0.12">142</text>
<text x="296.76" y="328.8" font-size="3.9" text-anchor="middle" fill="#222" stroke="#222" stroke-width="0.12">156</text>
<line x1="296.76" y1="332.2" x2="296.76" y2="333.2" stroke="#444" stroke-width="0.45"/>
<text x="296.76" y="336.62" font-size="3.4" text-anchor="middle" fill="#333" stroke="#333" stroke-width="0.12">2</text>
<text x="303.84" y="320.8" font-size="3.9" text-anchor="middle" fill="#222" stroke="#222" stroke-width="0.12">119</text>
<text x="303.84" y="328.8" font-size="3.9" text-anchor="middle" fill="#222" stroke="#222" stroke-width="0.12">139</text>
<line x1="303.84" y1="332.2" x2="303.84" y2="333.2" stroke="#444" stroke-width="0.45"/>
<text x="303.84" y="336.62" font-size="3.4" text-anchor="middle" fill="#333" stroke="#333" stroke-width="0.12">3</text>
<text x="310.92" y="320.8" font-size="3.9" text-anchor="middle" fill="#222" stroke="#222" stroke-width="0.12">107</text>
<text x="310.92" y="328.8" font-size="3.9" text-anchor="middle" fill="#222" stroke="#222" stroke-width="0.12">128</text>
<line x1="310.92" y1="332.2" x2="310.92" y2="333.2" stroke="#444" stroke-width="0.45"/>
<text x="310.92" y="336.62" font-size="3.4" text-anchor="middle" fill="#333" stroke="#333" stroke-width="0.12">4</text>
<text x="318" y="320.8" font-size="3.9" text-anchor="middle" fill="#222" stroke="#222" stroke-width="0.12">104</text>
<text x="318" y="328.8" font-size="3.9" text-anchor="middle" fill="#222" stroke="#222" stroke-width="0.12">119</text>
<line x1="318" y1="332.2" x2="318" y2="333.2" stroke="#444" stroke-width="0.45"/>
<text x="318" y="336.62" font-size="3.4" text-anchor="middle" fill="#333" stroke="#333" stroke-width="0.12">5</text>
<text x="325.08" y="320.8" font-size="3.9" text-anchor="middle" fill="#222" stroke="#222" stroke-width="0.12">96</text>
<text x="325.08" y="328.8" font-size="3.9" text-anchor="middle" fill="#222" stroke="#222" stroke-width="0.12">109</text>
<line x1="325.08" y1="332.2" x2="325.08" y2="333.2" stroke="#444" stroke-width="0.45"/>
<text x="325.08" y="336.62" font-size="3.4" text-anchor="middle" fill="#333" stroke="#333" stroke-width="0.12">6</text>
<text x="332.16" y="320.8" font-size="3.9" text-anchor="middle" fill="#222" stroke="#222" stroke-width="0.12">85</text>
<text x="332.16" y="328.8" font-size="3.9" text-anchor="middle" fill="#222" stroke="#222" stroke-width="0.12">104</text>
<line x1="332.16" y1="332.2" x2="332.16" y2="333.2" stroke="#444" stroke-width="0.45"/>
<text x="332.16" y="336.62" font-size="3.4" text-anchor="middle" fill="#333" stroke="#333" stroke-width="0.12">7</text>
<text x="339.24" y="320.8" font-size="3.9" text-anchor="middle" fill="#222" stroke="#222" stroke-width="0.12">77</text>
<text x="339.24" y="328.8" font-size="3.9" text-anchor="middle" fill="#222" stroke="#222" stroke-width="0.12">99</text>
<line x1="339.24" y1="332.2" x2="339.24" y2="333.2" stroke="#444" stroke-width="0.45"/>
<text x="339.24" y="336.62" font-size="3.4" text-anchor="middle" fill="#333" stroke="#333" stroke-width="0.12">8</text>
<text x="346.32" y="320.8" font-size="3.9" text-anchor="middle" fill="#222" stroke="#222" stroke-width="0.12">72</text>
<text x="346.32" y="328.8" font-size="3.9" text-anchor="middle" fill="#222" stroke="#222" stroke-width="0.12">93</text>
<line x1="346.32" y1="332.2" x2="346.32" y2="333.2" stroke="#444" stroke-width="0.45"/>
<text x="346.32" y="336.62" font-size="3.4" text-anchor="middle" fill="#333" stroke="#333" stroke-width="0.12">9</text>
<text x="353.4" y="320.8" font-size="3.9" text-anchor="middle" fill="#222" stroke="#222" stroke-width="0.12">68</text>
<text x="353.4" y="328.8" font-size="3.9" text-anchor="middle" fill="#222" stroke="#222" stroke-width="0.12">88</text>
<line x1="353.4" y1="332.2" x2="353.4" y2="333.2" stroke="#444" stroke-width="0.45"/>
<text x="353.4" y="336.62" font-size="3.4" text-anchor="middle" fill="#333" stroke="#333" stroke-width="0.12">10</text>
<text x="360.48" y="320.8" font-size="3.9" text-anchor="middle" fill="#222" stroke="#222" stroke-width="0.12">64</text>
<text x="360.48" y="328.8" font-size="3.9" text-anchor="middle" fill="#222" stroke="#222" stroke-width="0.12">80</text>
<line x1="360.48" y1="332.2" x2="360.48" y2="333.2" stroke="#444" stroke-width="0.45"/>
<text x="360.48" y="336.62" font-size="3.4" text-anchor="middle" fill="#333" stroke="#333" stroke-width="0.12">11</text>
<text x="367.56" y="320.8" font-size="3.9" text-anchor="middle" fill="#222" stroke="#222" stroke-width="0.12">63</text>
<text x="367.56" y="328.8" font-size="3.9" text-anchor="middle" fill="#222" stroke="#222" stroke-width="0.12">75</text>
<line x1="367.56" y1="332.2" x2="367.56" y2="333.2" stroke="#444" stroke-width="0.45"/>
<text x="367.56" y="336.62" font-size="3.4" text-anchor="middle" fill="#333" stroke="#333" stroke-width="0.12">12</text>
<text x="374.64" y="320.8" font-size="3.9" text-anchor="middle" fill="#222" stroke="#222" stroke-width="0.12">60</text>
<text x="374.64" y="328.8" font-size="3.9" text-anchor="middle" fill="#222" stroke="#222" stroke-width="0.12">71</text>
<line x1="374.64" y1="332.2" x2="374.64" y2="333.2" stroke="#444" stroke-width="0.45"/>
<text x="374.64" y="336.62" font-size="3.4" text-anchor="middle" fill="#333" stroke="#333" stroke-width="0.12">13</text>
<text x="381.72" y="320.8" font-size="3.9" text-anchor="middle" fill="#222" stroke="#222" stroke-width="0.12">59</text>
<text x="381.72" y="328.8" font-size="3.9" text-anchor="middle" fill="#222" stroke="#222" stroke-width="0.12">66</text>
<line x1="381.72" y1="332.2" x2="381.72" y2="333.2" stroke="#444" stroke-width="0.45"/>
<text x="381.72" y="336.62" font-size="3.4" text-anchor="middle" fill="#333" stroke="#333" stroke-width="0.12">14</text>
<text x="388.8" y="320.8" font-size="3.9" text-anchor="middle" fill="#222" stroke="#222" stroke-width="0.12">55</text>
<text x="388.8" y="328.8" font-size="3.9" text-anchor="middle" fill="#222" stroke="#222" stroke-width="0.12">64</text>
<line x1="388.8" y1="332.2" x2="388.8" y2="333.2" stroke="#444" stroke-width="0.45"/>
<text x="388.8" y="336.62" font-size="3.4" text-anchor="middle" fill="#333" stroke="#333" stroke-width="0.12">15</text>
<text x="395.88" y="320.8" font-size="3.9" text-anchor="middle" fill="#222" stroke="#222" stroke-width="0.12">52</text>
<text x="395.88" y="328.8" font-size="3.9" text-anchor="middle" fill="#222" stroke="#222" stroke-width="0.12">54</text>
<line x1="395.88" y1="332.2" x2="395.88" y2="333.2" stroke="#444" stroke-width="0.45"/>
<text x="395.88" y="336.62" font-size="3.4" text-anchor="middle" fill="#333" stroke="#333" stroke-width="0.12">16</text>
<text x="402.96" y="320.8" font-size="3.9" text-anchor="middle" fill="#222" stroke="#222" stroke-width="0.12">47</text>
<text x="402.96" y="328.8" font-size="3.9" text-anchor="middle" fill="#222" stroke="#222" stroke-width="0.12">49</text>
<line x1="402.96" y1="332.2" x2="402.96" y2="333.2" stroke="#444" stroke-width="0.45"/>
<text x="402.96" y="336.62" font-size="3.4" text-anchor="middle" fill="#333" stroke="#333" stroke-width="0.12">17</text>
<text x="410.04" y="320.8" font-size="3.9" text-anchor="middle" fill="#222" stroke="#222" stroke-width="0.12">38</text>
<text x="410.04" y="328.8" font-size="3.9" text-anchor="middle" fill="#222" stroke="#222" stroke-width="0.12">47</text>
<line x1="410.04" y1="332.2" x2="410.04" y2="333.2" stroke="#444" stroke-width="0.45"/>
<text x="410.04" y="336.62" font-size="3.4" text-anchor="middle" fill="#333" stroke="#333" stroke-width="0.12">18</text>
<text x="417.12" y="320.8" font-size="3.9" text-anchor="middle" fill="#222" stroke="#222" stroke-width="0.12">36</text>
<text x="417.12" y="328.8" font-size="3.9" text-anchor="middle" fill="#222" stroke="#222" stroke-width="0.12">38</text>
<line x1="417.12" y1="332.2" x2="417.12" y2="333.2" stroke="#444" stroke-width="0.45"/>
<text x="417.12" y="336.62" font-size="3.4" text-anchor="middle" fill="#333" stroke="#333" stroke-width="0.12">19</text>
<text x="424.2" y="320.8" font-size="3.9" text-anchor="middle" fill="#222" stroke="#222" stroke-width="0.12">33</text>
<text x="424.2" y="328.8" font-size="3.9" text-anchor="middle" fill="#222" stroke="#222" stroke-width="0.12">33</text>
<line x1="424.2" y1="332.2" x2="424.2" y2="333.2" stroke="#444" stroke-width="0.45"/>
<text x="424.2" y="336.62" font-size="3.4" text-anchor="middle" fill="#333" stroke="#333" stroke-width="0.12">20</text>
<text x="431.28" y="320.8" font-size="3.9" text-anchor="middle" fill="#222" stroke="#222" stroke-width="0.12">22</text>
<text x="431.28" y="328.8" font-size="3.9" text-anchor="middle" fill="#222" stroke="#222" stroke-width="0.12">21</text>
<line x1="431.28" y1="332.2" x2="431.28" y2="333.2" stroke="#444" stroke-width="0.45"/>
<text x="431.28" y="336.62" font-size="3.4" text-anchor="middle" fill="#333" stroke="#333" stroke-width="0.12">21</text>
<text x="438.36" y="320.8" font-size="3.9" text-anchor="middle" fill="#222" stroke="#222" stroke-width="0.12">14</text>
<text x="438.36" y="328.8" font-size="3.9" text-anchor="middle" fill="#222" stroke="#222" stroke-width="0.12">9</text>
<line x1="438.36" y1="332.2" x2="438.36" y2="333.2" stroke="#444" stroke-width="0.45"/>
<text x="438.36" y="336.62" font-size="3.4" text-anchor="middle" fill="#333" stroke="#333" stroke-width="0.12">22</text>
<text x="445.44" y="320.8" font-size="3.9" text-anchor="middle" fill="#222" stroke="#222" stroke-width="0.12">6</text>
<text x="445.44" y="328.8" font-size="3.9" text-anchor="middle" fill="#222" stroke="#222" stroke-width="0.12">5</text>
<line x1="445.44" y1="332.2" x2="445.44" y2="333.2" stroke="#444" stroke-width="0.45"/>
<text x="445.44" y="336.62" font-size="3.4" text-anchor="middle" fill="#333" stroke="#333" stroke-width="0.12">23</text>
<text x="452.52" y="320.8" font-size="3.9" text-anchor="middle" fill="#222" stroke="#222" stroke-width="0.12">0</text>
<text x="452.52" y="328.8" font-size="3.9" text-anchor="middle" fill="#222" stroke="#222" stroke-width="0.12">2</text>
<line x1="452.52" y1="332.2" x2="452.52" y2="333.2" stroke="#444" stroke-width="0.45"/>
<text x="452.52" y="336.62" font-size="3.4" text-anchor="middle" fill="#333" stroke="#333" stroke-width="0.12">24</text>
<text x="459.6" y="320.8" font-size="3.9" text-anchor="middle" fill="#222" stroke="#222" stroke-width="0.12">0</text>
<text x="459.6" y="328.8" font-size="3.9" text-anchor="middle" fill="#222" stroke="#222" stroke-width="0.12">0</text>
<line x1="459.6" y1="332.2" x2="459.6" y2="333.2" stroke="#444" stroke-width="0.45"/>
<text x="459.6" y="336.62" font-size="3.4" text-anchor="middle" fill="#333" stroke="#333" stroke-width="0.12">25</text>
<text x="371.8" y="340.9" font-size="3.6" text-anchor="middle" fill="#333" stroke="#333" stroke-width="0.12" textLength="23" lengthAdjust="spacingAndGlyphs">Time(years)</text>
<text x="18.4" y="370.6" font-size="16" class="r" font-weight="bold">E</text>
<line x1="52.8" y1="376.4" x2="52.8" y2="526.8" stroke="#222" stroke-width="0.85"/>
<line x1="52.8" y1="526.8" x2="137.3" y2="526.8" stroke="#222" stroke-width="0.85"/>
<line x1="51" y1="389.9" x2="52.8" y2="389.9" stroke="#222" stroke-width="0.6"/>
<text x="50.5" y="392.17" font-size="6.3" text-anchor="end" fill="#4d4d4d" stroke="#4d4d4d" stroke-width="0.22">100%</text>
<line x1="51" y1="422.5" x2="52.8" y2="422.5" stroke="#222" stroke-width="0.6"/>
<text x="50.5" y="424.77" font-size="6.3" text-anchor="end" fill="#4d4d4d" stroke="#4d4d4d" stroke-width="0.22">75%</text>
<line x1="51" y1="455.1" x2="52.8" y2="455.1" stroke="#222" stroke-width="0.6"/>
<text x="50.5" y="457.37" font-size="6.3" text-anchor="end" fill="#4d4d4d" stroke="#4d4d4d" stroke-width="0.22">50%</text>
<line x1="51" y1="487.7" x2="52.8" y2="487.7" stroke="#222" stroke-width="0.6"/>
<text x="50.5" y="489.97" font-size="6.3" text-anchor="end" fill="#4d4d4d" stroke="#4d4d4d" stroke-width="0.22">25%</text>
<line x1="51" y1="520.3" x2="52.8" y2="520.3" stroke="#222" stroke-width="0.6"/>
<text x="50.5" y="522.57" font-size="6.3" text-anchor="end" fill="#4d4d4d" stroke="#4d4d4d" stroke-width="0.22">0%</text>
<rect x="58.2" y="493.18" width="34.9" height="27.12" fill="#00FFFF"/>
<rect x="58.2" y="389.9" width="34.9" height="103.28" fill="#FFB6C1"/>
<text x="75.65" y="509.04" font-size="6.4" text-anchor="middle" fill="#555555" stroke="#555555" stroke-width="0.22">20.8%</text>
<text x="76.15" y="445.3" font-size="6.4" text-anchor="middle" fill="#555555" stroke="#555555" stroke-width="0.22">79.2%</text>
<rect x="96.3" y="488.09" width="34.9" height="32.21" fill="#00FFFF"/>
<rect x="96.3" y="389.9" width="34.9" height="98.19" fill="#FFB6C1"/>
<text x="113.75" y="506.5" font-size="6.4" text-anchor="middle" fill="#555555" stroke="#555555" stroke-width="0.22">24.7%</text>
<text x="113.75" y="441.3" font-size="6.4" text-anchor="middle" fill="#555555" stroke="#555555" stroke-width="0.22">75.3%</text>
<line x1="75.6" y1="526.8" x2="75.6" y2="528.5" stroke="#222" stroke-width="0.6"/>
<text x="75.6" y="534.58" font-size="6.6" text-anchor="middle" fill="#4d4d4d" stroke="#4d4d4d" stroke-width="0.22">high</text>
<line x1="113.8" y1="526.8" x2="113.8" y2="528.5" stroke="#222" stroke-width="0.6"/>
<text x="113.8" y="534.58" font-size="6.6" text-anchor="middle" fill="#4d4d4d" stroke="#4d4d4d" stroke-width="0.22">low</text>
<text x="94.6" y="541.8" font-size="6.4" text-anchor="middle" fill="#111" stroke="#111" stroke-width="0.22">Risk</text>
<text x="28.4" y="454.4" font-size="6.4" text-anchor="middle" fill="#111" stroke="#111" stroke-width="0.22" transform="rotate(-90 28.4 452.1)">Percent Weidght</text>
<text x="94.6" y="385.32" font-size="5.9" text-anchor="middle" fill="#111" stroke="#111" stroke-width="0.22">P &lt; 0.001</text>
<rect x="62.8" y="358.9" width="8.6" height="8.2" fill="#FFB6C1"/>
<text x="74.5" y="365.38" font-size="6.6" fill="#222" stroke="#222" stroke-width="0.22">SD/PD</text>
<rect x="98" y="358.9" width="8.6" height="8.2" fill="#00FFFF"/>
<text x="109.9" y="365.38" font-size="6.6" fill="#222" stroke="#222" stroke-width="0.22">CR/PR</text>
<text x="176.4" y="372" font-size="16" class="r" font-weight="bold">F</text>
<line x1="210.2" y1="378.3" x2="210.2" y2="528.9" stroke="#222" stroke-width="0.85"/>
<line x1="210.2" y1="528.9" x2="295.5" y2="528.9" stroke="#222" stroke-width="0.85"/>
<line x1="208.4" y1="391.8" x2="210.2" y2="391.8" stroke="#222" stroke-width="0.6"/>
<text x="207.9" y="394.07" font-size="6.3" text-anchor="end" fill="#4d4d4d" stroke="#4d4d4d" stroke-width="0.22">100%</text>
<line x1="208.4" y1="424.25" x2="210.2" y2="424.25" stroke="#222" stroke-width="0.6"/>
<text x="207.9" y="426.52" font-size="6.3" text-anchor="end" fill="#4d4d4d" stroke="#4d4d4d" stroke-width="0.22">75%</text>
<line x1="208.4" y1="456.7" x2="210.2" y2="456.7" stroke="#222" stroke-width="0.6"/>
<text x="207.9" y="458.97" font-size="6.3" text-anchor="end" fill="#4d4d4d" stroke="#4d4d4d" stroke-width="0.22">50%</text>
<line x1="208.4" y1="489.15" x2="210.2" y2="489.15" stroke="#222" stroke-width="0.6"/>
<text x="207.9" y="491.42" font-size="6.3" text-anchor="end" fill="#4d4d4d" stroke="#4d4d4d" stroke-width="0.22">25%</text>
<line x1="208.4" y1="521.6" x2="210.2" y2="521.6" stroke="#222" stroke-width="0.6"/>
<text x="207.9" y="523.87" font-size="6.3" text-anchor="end" fill="#4d4d4d" stroke="#4d4d4d" stroke-width="0.22">0%</text>
<rect x="216.4" y="470.85" width="34.5" height="50.75" fill="#FF0000"/>
<rect x="216.4" y="427.62" width="34.5" height="43.22" fill="#00FFFF"/>
<rect x="216.4" y="391.8" width="34.5" height="35.82" fill="#FFB6C1"/>
<text x="233.65" y="498.53" font-size="6.4" text-anchor="middle" fill="#8a1010" stroke="#8a1010" stroke-width="0.22">39.1%</text>
<text x="233.65" y="450.3" font-size="6.4" text-anchor="middle" fill="#555555" stroke="#555555" stroke-width="0.22">33.3%</text>
<text x="233.65" y="412.02" font-size="6.4" text-anchor="middle" fill="#555555" stroke="#555555" stroke-width="0.22">27.6%</text>
<rect x="254.5" y="484.09" width="34.6" height="37.51" fill="#FF0000"/>
<rect x="254.5" y="428.53" width="34.6" height="55.55" fill="#00FFFF"/>
<rect x="254.5" y="391.8" width="34.6" height="36.73" fill="#FFB6C1"/>
<text x="271.8" y="505.15" font-size="6.4" text-anchor="middle" fill="#8a1010" stroke="#8a1010" stroke-width="0.22">28.9%</text>
<text x="271.8" y="458.61" font-size="6.4" text-anchor="middle" fill="#555555" stroke="#555555" stroke-width="0.22">42.8%</text>
<text x="271.8" y="412.47" font-size="6.4" text-anchor="middle" fill="#555555" stroke="#555555" stroke-width="0.22">28.3%</text>
<line x1="233.7" y1="528.9" x2="233.7" y2="530.6" stroke="#222" stroke-width="0.6"/>
<text x="233.7" y="536.68" font-size="6.6" text-anchor="middle" fill="#4d4d4d" stroke="#4d4d4d" stroke-width="0.22">high</text>
<line x1="271.8" y1="528.9" x2="271.8" y2="530.6" stroke="#222" stroke-width="0.6"/>
<text x="271.8" y="536.68" font-size="6.6" text-anchor="middle" fill="#4d4d4d" stroke="#4d4d4d" stroke-width="0.22">low</text>
<text x="252.7" y="543.7" font-size="6.4" text-anchor="middle" fill="#111" stroke="#111" stroke-width="0.22">Risk</text>
<text x="185.5" y="456" font-size="6.4" text-anchor="middle" fill="#111" stroke="#111" stroke-width="0.22" transform="rotate(-90 185.5 453.7)">Percent Weidght</text>
<text x="252.7" y="386.52" font-size="5.9" text-anchor="middle" fill="#111" stroke="#111" stroke-width="0.22">P &lt; 0.001</text>
<rect x="216.3" y="360.6" width="8.6" height="7.8" fill="#FFB6C1"/>
<text x="227.6" y="366.88" font-size="6.6" fill="#222" stroke="#222" stroke-width="0.22">IC0</text>
<rect x="241.7" y="360.6" width="8.7" height="7.8" fill="#00FFFF"/>
<text x="252.8" y="366.88" font-size="6.6" fill="#222" stroke="#222" stroke-width="0.22">IC1</text>
<rect x="267.2" y="360.6" width="9" height="7.8" fill="#FF0000"/>
<text x="278.9" y="366.88" font-size="6.6" fill="#222" stroke="#222" stroke-width="0.22">IC2+</text>
<text x="333.2" y="371.7" font-size="16" class="r" font-weight="bold">G</text>
<line x1="368.2" y1="375.9" x2="368.2" y2="527" stroke="#222" stroke-width="0.85"/>
<line x1="368.2" y1="527" x2="452.5" y2="527" stroke="#222" stroke-width="0.85"/>
<line x1="366.4" y1="389.4" x2="368.2" y2="389.4" stroke="#222" stroke-width="0.6"/>
<text x="365.9" y="391.67" font-size="6.3" text-anchor="end" fill="#4d4d4d" stroke="#4d4d4d" stroke-width="0.22">100%</text>
<line x1="366.4" y1="422.07" x2="368.2" y2="422.07" stroke="#222" stroke-width="0.6"/>
<text x="365.9" y="424.34" font-size="6.3" text-anchor="end" fill="#4d4d4d" stroke="#4d4d4d" stroke-width="0.22">75%</text>
<line x1="366.4" y1="454.75" x2="368.2" y2="454.75" stroke="#222" stroke-width="0.6"/>
<text x="365.9" y="457.02" font-size="6.3" text-anchor="end" fill="#4d4d4d" stroke="#4d4d4d" stroke-width="0.22">50%</text>
<line x1="366.4" y1="487.43" x2="368.2" y2="487.43" stroke="#222" stroke-width="0.6"/>
<text x="365.9" y="489.69" font-size="6.3" text-anchor="end" fill="#4d4d4d" stroke="#4d4d4d" stroke-width="0.22">25%</text>
<line x1="366.4" y1="520.1" x2="368.2" y2="520.1" stroke="#222" stroke-width="0.6"/>
<text x="365.9" y="522.37" font-size="6.3" text-anchor="end" fill="#4d4d4d" stroke="#4d4d4d" stroke-width="0.22">0%</text>
<rect x="373.9" y="491.61" width="34.4" height="28.49" fill="#FF0000"/>
<rect x="373.9" y="481.8" width="34.4" height="9.8" fill="#00FFFF"/>
<rect x="373.9" y="389.4" width="34.4" height="92.4" fill="#FFB6C1"/>
<text x="391.1" y="508.16" font-size="6.4" text-anchor="middle" fill="#8a1010" stroke="#8a1010" stroke-width="0.22">21.8%</text>
<text x="391.1" y="489.01" font-size="6.4" text-anchor="middle" fill="#555555" stroke="#555555" stroke-width="0.22">7.5%</text>
<text x="391.1" y="437.91" font-size="6.4" text-anchor="middle" fill="#555555" stroke="#555555" stroke-width="0.22">70.7%</text>
<rect x="411.6" y="511.08" width="34.7" height="9.02" fill="#FF0000"/>
<rect x="411.6" y="504.29" width="34.7" height="6.8" fill="#00FFFF"/>
<rect x="411.6" y="389.4" width="34.7" height="114.89" fill="#FFB6C1"/>
<text x="428.95" y="517.89" font-size="6.4" text-anchor="middle" fill="#8a1010" stroke="#8a1010" stroke-width="0.22">6.9%</text>
<text x="428.95" y="509.99" font-size="6.4" text-anchor="middle" fill="#555555" stroke="#555555" stroke-width="0.22">5.2%</text>
<text x="428.95" y="452.3" font-size="6.4" text-anchor="middle" fill="#555555" stroke="#555555" stroke-width="0.22">87.9%</text>
<line x1="391" y1="527" x2="391" y2="528.7" stroke="#222" stroke-width="0.6"/>
<text x="391" y="534.78" font-size="6.6" text-anchor="middle" fill="#4d4d4d" stroke="#4d4d4d" stroke-width="0.22">high</text>
<line x1="429" y1="527" x2="429" y2="528.7" stroke="#222" stroke-width="0.6"/>
<text x="429" y="534.78" font-size="6.6" text-anchor="middle" fill="#4d4d4d" stroke="#4d4d4d" stroke-width="0.22">low</text>
<text x="409.7" y="541.8" font-size="6.4" text-anchor="middle" fill="#111" stroke="#111" stroke-width="0.22">Risk</text>
<text x="344.4" y="454.05" font-size="6.4" text-anchor="middle" fill="#111" stroke="#111" stroke-width="0.22" transform="rotate(-90 344.4 451.75)">Percent Weidght</text>
<text x="409.7" y="384.92" font-size="5.9" text-anchor="middle" fill="#111" stroke="#111" stroke-width="0.22">P &lt; 0.001</text>
<rect x="370.4" y="358.6" width="8.8" height="8.3" fill="#FFB6C1"/>
<text x="381.9" y="365.08" font-size="6.6" fill="#222" stroke="#222" stroke-width="0.22">TC0</text>
<rect x="398" y="358.6" width="8.8" height="8.3" fill="#00FFFF"/>
<text x="409.6" y="365.08" font-size="6.6" fill="#222" stroke="#222" stroke-width="0.22">TC1</text>
<rect x="425.2" y="358.6" width="9" height="8.3" fill="#FF0000"/>
<text x="437.2" y="365.08" font-size="6.6" fill="#222" stroke="#222" stroke-width="0.22">TC2+</text>
</svg>
</body></html>
